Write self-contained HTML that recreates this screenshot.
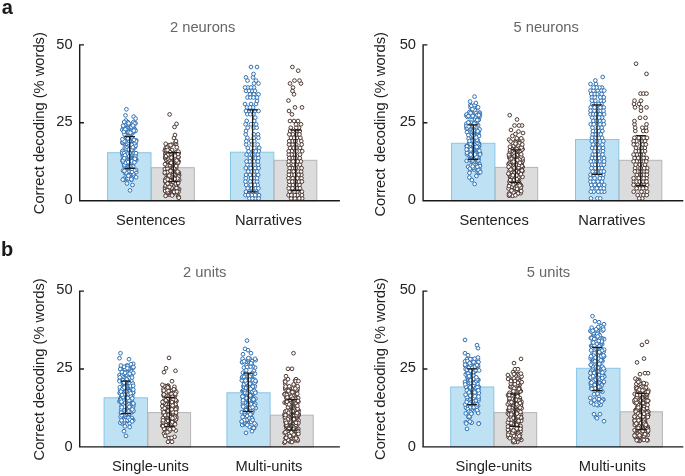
<!DOCTYPE html>
<html lang="en"><head><meta charset="utf-8"><title>Decoding figure</title>
<style>html,body{margin:0;padding:0;background:#fff}svg{display:block}</style></head>
<body>
<svg width="685" height="476" viewBox="0 0 685 476" font-family="Liberation Sans, Arial, sans-serif" font-size="14.7">
<rect width="685" height="476" fill="#fff"/>
<rect x="107.6" y="152.7" width="43.4" height="48.0" fill="#bfe1f4" stroke="#86c6e6" stroke-width="1"/>
<rect x="151.4" y="167.7" width="42.9" height="33.0" fill="#dcdcdc" stroke="#b4b4b4" stroke-width="1"/>
<rect x="230.5" y="152.2" width="43.3" height="48.5" fill="#bfe1f4" stroke="#86c6e6" stroke-width="1"/>
<rect x="274.2" y="160.3" width="42.6" height="40.4" fill="#dcdcdc" stroke="#b4b4b4" stroke-width="1"/>
<g fill="#fff" stroke="#2a6eb2" stroke-width="0.95">
<circle cx="133.2" cy="166.3" r="1.85"/>
<circle cx="124.7" cy="148.0" r="1.85"/>
<circle cx="125.8" cy="156.8" r="1.85"/>
<circle cx="134.9" cy="156.4" r="1.85"/>
<circle cx="132.5" cy="151.0" r="1.85"/>
<circle cx="126.3" cy="136.9" r="1.85"/>
<circle cx="126.2" cy="160.1" r="1.85"/>
<circle cx="129.3" cy="158.1" r="1.85"/>
<circle cx="126.4" cy="148.7" r="1.85"/>
<circle cx="126.0" cy="120.5" r="1.85"/>
<circle cx="130.9" cy="152.4" r="1.85"/>
<circle cx="122.4" cy="151.0" r="1.85"/>
<circle cx="135.4" cy="153.1" r="1.85"/>
<circle cx="131.9" cy="152.2" r="1.85"/>
<circle cx="128.0" cy="137.3" r="1.85"/>
<circle cx="125.5" cy="159.6" r="1.85"/>
<circle cx="133.3" cy="132.5" r="1.85"/>
<circle cx="130.1" cy="143.8" r="1.85"/>
<circle cx="125.5" cy="115.4" r="1.85"/>
<circle cx="135.3" cy="154.0" r="1.85"/>
<circle cx="125.4" cy="132.4" r="1.85"/>
<circle cx="125.9" cy="142.2" r="1.85"/>
<circle cx="131.4" cy="179.8" r="1.85"/>
<circle cx="128.0" cy="122.2" r="1.85"/>
<circle cx="127.3" cy="137.4" r="1.85"/>
<circle cx="127.4" cy="159.7" r="1.85"/>
<circle cx="133.5" cy="162.9" r="1.85"/>
<circle cx="133.5" cy="141.6" r="1.85"/>
<circle cx="122.4" cy="160.5" r="1.85"/>
<circle cx="129.3" cy="125.4" r="1.85"/>
<circle cx="128.5" cy="126.8" r="1.85"/>
<circle cx="134.5" cy="145.1" r="1.85"/>
<circle cx="133.2" cy="175.7" r="1.85"/>
<circle cx="126.8" cy="146.9" r="1.85"/>
<circle cx="123.0" cy="154.3" r="1.85"/>
<circle cx="123.8" cy="143.5" r="1.85"/>
<circle cx="123.0" cy="170.6" r="1.85"/>
<circle cx="125.9" cy="128.0" r="1.85"/>
<circle cx="129.5" cy="135.4" r="1.85"/>
<circle cx="128.1" cy="153.1" r="1.85"/>
<circle cx="133.6" cy="116.6" r="1.85"/>
<circle cx="129.7" cy="151.6" r="1.85"/>
<circle cx="126.2" cy="165.0" r="1.85"/>
<circle cx="123.6" cy="127.1" r="1.85"/>
<circle cx="131.6" cy="124.3" r="1.85"/>
<circle cx="123.6" cy="163.1" r="1.85"/>
<circle cx="130.1" cy="128.3" r="1.85"/>
<circle cx="134.0" cy="128.0" r="1.85"/>
<circle cx="128.9" cy="171.6" r="1.85"/>
<circle cx="133.7" cy="128.6" r="1.85"/>
<circle cx="123.1" cy="160.0" r="1.85"/>
<circle cx="126.1" cy="123.6" r="1.85"/>
<circle cx="130.4" cy="140.5" r="1.85"/>
<circle cx="127.3" cy="128.0" r="1.85"/>
<circle cx="132.9" cy="155.1" r="1.85"/>
<circle cx="127.0" cy="136.9" r="1.85"/>
<circle cx="124.2" cy="178.5" r="1.85"/>
<circle cx="122.5" cy="143.0" r="1.85"/>
<circle cx="129.4" cy="157.5" r="1.85"/>
<circle cx="131.1" cy="174.0" r="1.85"/>
<circle cx="124.1" cy="166.1" r="1.85"/>
<circle cx="136.2" cy="140.3" r="1.85"/>
<circle cx="134.6" cy="154.4" r="1.85"/>
<circle cx="135.5" cy="155.2" r="1.85"/>
<circle cx="127.7" cy="179.3" r="1.85"/>
<circle cx="129.0" cy="131.0" r="1.85"/>
<circle cx="123.8" cy="130.5" r="1.85"/>
<circle cx="125.9" cy="170.4" r="1.85"/>
<circle cx="122.3" cy="129.7" r="1.85"/>
<circle cx="130.0" cy="164.8" r="1.85"/>
<circle cx="132.1" cy="139.0" r="1.85"/>
<circle cx="123.0" cy="141.2" r="1.85"/>
<circle cx="125.0" cy="125.5" r="1.85"/>
<circle cx="135.5" cy="143.6" r="1.85"/>
<circle cx="125.8" cy="128.7" r="1.85"/>
<circle cx="123.9" cy="157.0" r="1.85"/>
<circle cx="125.6" cy="129.6" r="1.85"/>
<circle cx="127.0" cy="183.5" r="1.85"/>
<circle cx="125.2" cy="173.3" r="1.85"/>
<circle cx="133.5" cy="172.3" r="1.85"/>
<circle cx="123.8" cy="179.8" r="1.85"/>
<circle cx="130.0" cy="190.4" r="1.85"/>
<circle cx="122.5" cy="154.0" r="1.85"/>
<circle cx="131.9" cy="140.3" r="1.85"/>
<circle cx="132.4" cy="154.4" r="1.85"/>
<circle cx="131.1" cy="128.1" r="1.85"/>
<circle cx="125.0" cy="133.6" r="1.85"/>
<circle cx="135.1" cy="146.8" r="1.85"/>
<circle cx="123.6" cy="158.3" r="1.85"/>
<circle cx="135.6" cy="118.6" r="1.85"/>
<circle cx="124.0" cy="140.9" r="1.85"/>
<circle cx="130.2" cy="167.1" r="1.85"/>
<circle cx="132.9" cy="146.7" r="1.85"/>
<circle cx="122.8" cy="156.3" r="1.85"/>
<circle cx="126.6" cy="173.7" r="1.85"/>
<circle cx="129.9" cy="142.7" r="1.85"/>
<circle cx="127.7" cy="156.0" r="1.85"/>
<circle cx="128.6" cy="156.2" r="1.85"/>
<circle cx="127.8" cy="145.2" r="1.85"/>
<circle cx="127.3" cy="178.3" r="1.85"/>
<circle cx="124.5" cy="164.8" r="1.85"/>
<circle cx="124.2" cy="129.5" r="1.85"/>
<circle cx="132.5" cy="185.0" r="1.85"/>
<circle cx="125.5" cy="157.0" r="1.85"/>
<circle cx="129.6" cy="150.3" r="1.85"/>
<circle cx="134.5" cy="147.6" r="1.85"/>
<circle cx="122.8" cy="142.1" r="1.85"/>
<circle cx="125.3" cy="135.0" r="1.85"/>
<circle cx="129.1" cy="156.1" r="1.85"/>
<circle cx="126.9" cy="161.4" r="1.85"/>
<circle cx="133.2" cy="154.8" r="1.85"/>
<circle cx="131.9" cy="154.3" r="1.85"/>
<circle cx="135.5" cy="171.6" r="1.85"/>
<circle cx="130.0" cy="141.0" r="1.85"/>
<circle cx="130.5" cy="163.0" r="1.85"/>
<circle cx="132.6" cy="170.3" r="1.85"/>
<circle cx="127.0" cy="143.8" r="1.85"/>
<circle cx="130.4" cy="136.2" r="1.85"/>
<circle cx="127.3" cy="153.6" r="1.85"/>
<circle cx="132.0" cy="172.9" r="1.85"/>
<circle cx="133.8" cy="147.0" r="1.85"/>
<circle cx="123.9" cy="155.9" r="1.85"/>
<circle cx="122.9" cy="161.9" r="1.85"/>
<circle cx="135.5" cy="145.7" r="1.85"/>
<circle cx="134.7" cy="143.2" r="1.85"/>
<circle cx="133.7" cy="140.2" r="1.85"/>
<circle cx="128.6" cy="142.9" r="1.85"/>
<circle cx="128.5" cy="178.4" r="1.85"/>
<circle cx="131.5" cy="150.0" r="1.85"/>
<circle cx="133.9" cy="158.9" r="1.85"/>
<circle cx="125.3" cy="129.3" r="1.85"/>
<circle cx="134.8" cy="158.6" r="1.85"/>
<circle cx="133.2" cy="175.1" r="1.85"/>
<circle cx="128.3" cy="124.2" r="1.85"/>
<circle cx="128.4" cy="175.8" r="1.85"/>
<circle cx="126.0" cy="136.7" r="1.85"/>
<circle cx="132.1" cy="125.6" r="1.85"/>
<circle cx="136.1" cy="141.3" r="1.85"/>
<circle cx="133.6" cy="175.4" r="1.85"/>
<circle cx="129.5" cy="141.2" r="1.85"/>
<circle cx="135.4" cy="155.8" r="1.85"/>
<circle cx="126.1" cy="170.5" r="1.85"/>
<circle cx="136.1" cy="159.5" r="1.85"/>
<circle cx="131.6" cy="144.8" r="1.85"/>
<circle cx="122.4" cy="152.9" r="1.85"/>
<circle cx="133.2" cy="153.4" r="1.85"/>
<circle cx="133.5" cy="160.5" r="1.85"/>
<circle cx="128.7" cy="123.3" r="1.85"/>
<circle cx="129.3" cy="167.6" r="1.85"/>
<circle cx="125.8" cy="162.9" r="1.85"/>
<circle cx="133.4" cy="173.6" r="1.85"/>
<circle cx="124.2" cy="153.2" r="1.85"/>
<circle cx="135.6" cy="123.4" r="1.85"/>
<circle cx="123.4" cy="126.1" r="1.85"/>
<circle cx="131.5" cy="127.0" r="1.85"/>
<circle cx="122.8" cy="179.6" r="1.85"/>
<circle cx="131.5" cy="161.3" r="1.85"/>
<circle cx="128.9" cy="166.3" r="1.85"/>
<circle cx="136.2" cy="160.2" r="1.85"/>
<circle cx="130.3" cy="136.4" r="1.85"/>
<circle cx="125.0" cy="155.3" r="1.85"/>
<circle cx="134.5" cy="153.0" r="1.85"/>
<circle cx="123.1" cy="160.4" r="1.85"/>
<circle cx="131.1" cy="169.1" r="1.85"/>
<circle cx="124.4" cy="134.3" r="1.85"/>
<circle cx="129.0" cy="135.8" r="1.85"/>
<circle cx="133.4" cy="122.2" r="1.85"/>
<circle cx="136.2" cy="172.1" r="1.85"/>
<circle cx="135.0" cy="129.7" r="1.85"/>
<circle cx="126.4" cy="109.3" r="1.85"/>
<circle cx="122.9" cy="142.2" r="1.85"/>
<circle cx="136.1" cy="169.9" r="1.85"/>
<circle cx="132.9" cy="147.3" r="1.85"/>
<circle cx="134.4" cy="170.3" r="1.85"/>
<circle cx="131.9" cy="137.3" r="1.85"/>
<circle cx="131.9" cy="178.2" r="1.85"/>
<circle cx="136.0" cy="153.2" r="1.85"/>
<circle cx="135.6" cy="159.0" r="1.85"/>
<circle cx="134.0" cy="139.9" r="1.85"/>
<circle cx="133.1" cy="131.9" r="1.85"/>
<circle cx="128.9" cy="137.4" r="1.85"/>
<circle cx="125.3" cy="141.5" r="1.85"/>
<circle cx="136.1" cy="177.3" r="1.85"/>
<circle cx="134.5" cy="123.5" r="1.85"/>
<circle cx="124.2" cy="141.1" r="1.85"/>
<circle cx="131.3" cy="179.3" r="1.85"/>
<circle cx="124.2" cy="158.2" r="1.85"/>
<circle cx="123.8" cy="131.9" r="1.85"/>
<circle cx="128.0" cy="138.4" r="1.85"/>
<circle cx="125.1" cy="170.7" r="1.85"/>
<circle cx="126.2" cy="172.6" r="1.85"/>
<circle cx="124.4" cy="170.9" r="1.85"/>
<circle cx="134.4" cy="162.4" r="1.85"/>
<circle cx="123.1" cy="125.7" r="1.85"/>
<circle cx="135.6" cy="130.8" r="1.85"/>
<circle cx="129.0" cy="149.5" r="1.85"/>
<circle cx="132.0" cy="171.8" r="1.85"/>
<circle cx="128.8" cy="132.2" r="1.85"/>
<circle cx="134.9" cy="158.8" r="1.85"/>
<circle cx="130.2" cy="166.2" r="1.85"/>
<circle cx="132.0" cy="168.9" r="1.85"/>
<circle cx="130.4" cy="132.7" r="1.85"/>
<circle cx="133.0" cy="125.5" r="1.85"/>
<circle cx="133.8" cy="130.6" r="1.85"/>
<circle cx="124.2" cy="122.0" r="1.85"/>
<circle cx="129.9" cy="153.0" r="1.85"/>
<circle cx="122.4" cy="139.3" r="1.85"/>
<circle cx="128.2" cy="162.1" r="1.85"/>
</g>
<g fill="#fff" stroke="#48322a" stroke-width="0.95">
<circle cx="173.8" cy="153.0" r="1.85"/>
<circle cx="175.8" cy="175.7" r="1.85"/>
<circle cx="174.0" cy="138.0" r="1.85"/>
<circle cx="172.7" cy="190.9" r="1.85"/>
<circle cx="166.1" cy="159.8" r="1.85"/>
<circle cx="168.9" cy="194.6" r="1.85"/>
<circle cx="174.1" cy="181.1" r="1.85"/>
<circle cx="170.2" cy="167.8" r="1.85"/>
<circle cx="173.7" cy="191.8" r="1.85"/>
<circle cx="175.4" cy="157.5" r="1.85"/>
<circle cx="172.7" cy="165.8" r="1.85"/>
<circle cx="167.5" cy="167.8" r="1.85"/>
<circle cx="173.3" cy="193.9" r="1.85"/>
<circle cx="175.0" cy="143.7" r="1.85"/>
<circle cx="165.5" cy="149.4" r="1.85"/>
<circle cx="168.4" cy="154.2" r="1.85"/>
<circle cx="170.0" cy="190.0" r="1.85"/>
<circle cx="174.9" cy="192.0" r="1.85"/>
<circle cx="165.5" cy="179.4" r="1.85"/>
<circle cx="167.8" cy="168.3" r="1.85"/>
<circle cx="170.9" cy="159.6" r="1.85"/>
<circle cx="168.6" cy="155.0" r="1.85"/>
<circle cx="170.5" cy="161.4" r="1.85"/>
<circle cx="166.3" cy="156.4" r="1.85"/>
<circle cx="168.4" cy="156.1" r="1.85"/>
<circle cx="168.1" cy="189.0" r="1.85"/>
<circle cx="170.8" cy="181.9" r="1.85"/>
<circle cx="170.5" cy="149.6" r="1.85"/>
<circle cx="173.0" cy="174.5" r="1.85"/>
<circle cx="174.5" cy="167.9" r="1.85"/>
<circle cx="167.7" cy="177.5" r="1.85"/>
<circle cx="168.5" cy="163.8" r="1.85"/>
<circle cx="178.8" cy="153.1" r="1.85"/>
<circle cx="172.1" cy="150.0" r="1.85"/>
<circle cx="178.0" cy="174.8" r="1.85"/>
<circle cx="178.1" cy="196.1" r="1.85"/>
<circle cx="166.6" cy="194.8" r="1.85"/>
<circle cx="178.7" cy="197.2" r="1.85"/>
<circle cx="171.9" cy="164.4" r="1.85"/>
<circle cx="165.1" cy="187.4" r="1.85"/>
<circle cx="167.2" cy="167.2" r="1.85"/>
<circle cx="175.4" cy="183.7" r="1.85"/>
<circle cx="168.3" cy="163.4" r="1.85"/>
<circle cx="178.8" cy="197.8" r="1.85"/>
<circle cx="166.5" cy="178.1" r="1.85"/>
<circle cx="168.4" cy="148.7" r="1.85"/>
<circle cx="165.3" cy="153.8" r="1.85"/>
<circle cx="165.8" cy="147.8" r="1.85"/>
<circle cx="169.7" cy="161.6" r="1.85"/>
<circle cx="171.6" cy="144.6" r="1.85"/>
<circle cx="179.1" cy="175.2" r="1.85"/>
<circle cx="165.4" cy="181.9" r="1.85"/>
<circle cx="173.9" cy="168.2" r="1.85"/>
<circle cx="172.7" cy="171.8" r="1.85"/>
<circle cx="165.1" cy="158.0" r="1.85"/>
<circle cx="164.8" cy="150.8" r="1.85"/>
<circle cx="174.5" cy="127.0" r="1.85"/>
<circle cx="178.1" cy="176.7" r="1.85"/>
<circle cx="176.1" cy="144.1" r="1.85"/>
<circle cx="178.5" cy="157.3" r="1.85"/>
<circle cx="173.7" cy="171.0" r="1.85"/>
<circle cx="169.3" cy="192.4" r="1.85"/>
<circle cx="178.5" cy="174.4" r="1.85"/>
<circle cx="171.9" cy="194.4" r="1.85"/>
<circle cx="175.8" cy="153.5" r="1.85"/>
<circle cx="164.9" cy="169.1" r="1.85"/>
<circle cx="173.9" cy="189.7" r="1.85"/>
<circle cx="179.2" cy="180.1" r="1.85"/>
<circle cx="166.6" cy="191.7" r="1.85"/>
<circle cx="169.5" cy="190.4" r="1.85"/>
<circle cx="175.2" cy="191.0" r="1.85"/>
<circle cx="175.0" cy="179.7" r="1.85"/>
<circle cx="168.0" cy="167.8" r="1.85"/>
<circle cx="165.5" cy="156.3" r="1.85"/>
<circle cx="177.1" cy="184.9" r="1.85"/>
<circle cx="175.9" cy="184.8" r="1.85"/>
<circle cx="170.5" cy="174.3" r="1.85"/>
<circle cx="170.6" cy="153.6" r="1.85"/>
<circle cx="176.5" cy="163.4" r="1.85"/>
<circle cx="168.4" cy="175.4" r="1.85"/>
<circle cx="175.4" cy="183.4" r="1.85"/>
<circle cx="179.1" cy="189.1" r="1.85"/>
<circle cx="168.0" cy="162.2" r="1.85"/>
<circle cx="167.5" cy="170.6" r="1.85"/>
<circle cx="174.5" cy="180.3" r="1.85"/>
<circle cx="169.7" cy="166.6" r="1.85"/>
<circle cx="174.9" cy="175.1" r="1.85"/>
<circle cx="168.8" cy="145.2" r="1.85"/>
<circle cx="174.8" cy="166.6" r="1.85"/>
<circle cx="165.6" cy="195.9" r="1.85"/>
<circle cx="168.5" cy="192.8" r="1.85"/>
<circle cx="174.4" cy="169.8" r="1.85"/>
<circle cx="175.0" cy="135.0" r="1.85"/>
<circle cx="171.6" cy="188.6" r="1.85"/>
<circle cx="176.0" cy="161.9" r="1.85"/>
<circle cx="166.1" cy="152.0" r="1.85"/>
<circle cx="168.4" cy="169.5" r="1.85"/>
<circle cx="170.5" cy="145.1" r="1.85"/>
<circle cx="169.1" cy="176.1" r="1.85"/>
<circle cx="166.6" cy="192.3" r="1.85"/>
<circle cx="165.0" cy="173.3" r="1.85"/>
<circle cx="165.5" cy="156.9" r="1.85"/>
<circle cx="177.8" cy="152.8" r="1.85"/>
<circle cx="171.3" cy="180.1" r="1.85"/>
<circle cx="165.2" cy="188.6" r="1.85"/>
<circle cx="177.5" cy="188.7" r="1.85"/>
<circle cx="169.5" cy="173.6" r="1.85"/>
<circle cx="166.8" cy="171.9" r="1.85"/>
<circle cx="167.5" cy="168.6" r="1.85"/>
<circle cx="177.7" cy="180.9" r="1.85"/>
<circle cx="171.0" cy="160.8" r="1.85"/>
<circle cx="166.5" cy="150.6" r="1.85"/>
<circle cx="171.0" cy="184.7" r="1.85"/>
<circle cx="178.5" cy="176.6" r="1.85"/>
<circle cx="168.4" cy="192.6" r="1.85"/>
<circle cx="166.1" cy="156.1" r="1.85"/>
<circle cx="174.1" cy="191.9" r="1.85"/>
<circle cx="169.9" cy="156.5" r="1.85"/>
<circle cx="178.3" cy="156.9" r="1.85"/>
<circle cx="165.9" cy="178.6" r="1.85"/>
<circle cx="171.6" cy="188.0" r="1.85"/>
<circle cx="165.3" cy="180.8" r="1.85"/>
<circle cx="168.5" cy="177.3" r="1.85"/>
<circle cx="177.8" cy="163.3" r="1.85"/>
<circle cx="171.2" cy="176.7" r="1.85"/>
<circle cx="178.5" cy="191.8" r="1.85"/>
<circle cx="167.5" cy="172.1" r="1.85"/>
<circle cx="172.3" cy="163.5" r="1.85"/>
<circle cx="168.6" cy="190.0" r="1.85"/>
<circle cx="169.2" cy="163.1" r="1.85"/>
<circle cx="178.9" cy="172.7" r="1.85"/>
<circle cx="169.5" cy="182.4" r="1.85"/>
<circle cx="168.8" cy="158.5" r="1.85"/>
<circle cx="167.1" cy="150.7" r="1.85"/>
<circle cx="170.3" cy="176.6" r="1.85"/>
<circle cx="168.7" cy="159.6" r="1.85"/>
<circle cx="169.6" cy="114.4" r="1.85"/>
<circle cx="170.7" cy="181.0" r="1.85"/>
<circle cx="166.6" cy="190.2" r="1.85"/>
<circle cx="166.8" cy="165.4" r="1.85"/>
<circle cx="177.5" cy="178.5" r="1.85"/>
<circle cx="172.1" cy="195.5" r="1.85"/>
<circle cx="178.0" cy="172.9" r="1.85"/>
<circle cx="171.6" cy="154.2" r="1.85"/>
<circle cx="176.3" cy="167.4" r="1.85"/>
<circle cx="173.2" cy="169.3" r="1.85"/>
<circle cx="168.4" cy="162.1" r="1.85"/>
<circle cx="176.1" cy="166.0" r="1.85"/>
<circle cx="169.0" cy="188.9" r="1.85"/>
<circle cx="176.8" cy="147.3" r="1.85"/>
<circle cx="164.8" cy="172.5" r="1.85"/>
<circle cx="175.1" cy="155.6" r="1.85"/>
<circle cx="165.7" cy="185.8" r="1.85"/>
<circle cx="175.7" cy="142.2" r="1.85"/>
<circle cx="169.6" cy="161.4" r="1.85"/>
<circle cx="172.7" cy="176.2" r="1.85"/>
<circle cx="168.5" cy="189.8" r="1.85"/>
<circle cx="169.9" cy="165.1" r="1.85"/>
<circle cx="176.9" cy="151.7" r="1.85"/>
<circle cx="174.2" cy="169.6" r="1.85"/>
<circle cx="165.7" cy="143.8" r="1.85"/>
<circle cx="168.1" cy="184.6" r="1.85"/>
<circle cx="167.7" cy="179.4" r="1.85"/>
<circle cx="170.2" cy="163.0" r="1.85"/>
<circle cx="165.1" cy="191.0" r="1.85"/>
<circle cx="178.2" cy="183.0" r="1.85"/>
<circle cx="176.0" cy="141.0" r="1.85"/>
<circle cx="168.5" cy="154.4" r="1.85"/>
<circle cx="170.8" cy="153.6" r="1.85"/>
<circle cx="178.6" cy="161.4" r="1.85"/>
<circle cx="173.1" cy="181.9" r="1.85"/>
<circle cx="165.0" cy="164.2" r="1.85"/>
<circle cx="167.0" cy="147.7" r="1.85"/>
<circle cx="171.4" cy="157.7" r="1.85"/>
<circle cx="167.9" cy="186.9" r="1.85"/>
<circle cx="177.6" cy="171.6" r="1.85"/>
<circle cx="178.3" cy="151.6" r="1.85"/>
<circle cx="167.8" cy="192.1" r="1.85"/>
<circle cx="171.2" cy="162.8" r="1.85"/>
<circle cx="166.0" cy="150.2" r="1.85"/>
<circle cx="178.0" cy="161.4" r="1.85"/>
<circle cx="176.5" cy="188.0" r="1.85"/>
<circle cx="178.0" cy="154.1" r="1.85"/>
<circle cx="169.5" cy="187.0" r="1.85"/>
<circle cx="178.1" cy="162.4" r="1.85"/>
<circle cx="167.4" cy="190.3" r="1.85"/>
<circle cx="174.6" cy="169.2" r="1.85"/>
<circle cx="173.4" cy="174.5" r="1.85"/>
<circle cx="170.0" cy="152.0" r="1.85"/>
<circle cx="176.5" cy="123.9" r="1.85"/>
<circle cx="169.2" cy="175.6" r="1.85"/>
<circle cx="174.6" cy="178.9" r="1.85"/>
<circle cx="177.0" cy="191.6" r="1.85"/>
<circle cx="167.6" cy="150.0" r="1.85"/>
<circle cx="173.7" cy="168.4" r="1.85"/>
<circle cx="172.7" cy="171.4" r="1.85"/>
<circle cx="170.5" cy="171.0" r="1.85"/>
<circle cx="176.6" cy="160.5" r="1.85"/>
<circle cx="167.7" cy="183.5" r="1.85"/>
</g>
<g fill="#fff" stroke="#2a6eb2" stroke-width="0.95">
<circle cx="253.9" cy="134.4" r="1.85"/>
<circle cx="255.4" cy="198.4" r="1.85"/>
<circle cx="247.3" cy="114.2" r="1.85"/>
<circle cx="253.0" cy="151.2" r="1.85"/>
<circle cx="256.0" cy="104.0" r="1.85"/>
<circle cx="259.2" cy="147.9" r="1.85"/>
<circle cx="247.4" cy="137.8" r="1.85"/>
<circle cx="258.2" cy="164.7" r="1.85"/>
<circle cx="258.0" cy="134.4" r="1.85"/>
<circle cx="255.0" cy="111.0" r="1.85"/>
<circle cx="258.5" cy="111.0" r="1.85"/>
<circle cx="252.1" cy="191.7" r="1.85"/>
<circle cx="247.0" cy="107.4" r="1.85"/>
<circle cx="246.1" cy="144.5" r="1.85"/>
<circle cx="254.1" cy="161.4" r="1.85"/>
<circle cx="253.0" cy="107.4" r="1.85"/>
<circle cx="253.9" cy="178.2" r="1.85"/>
<circle cx="257.0" cy="67.0" r="1.85"/>
<circle cx="257.9" cy="154.6" r="1.85"/>
<circle cx="251.8" cy="195.1" r="1.85"/>
<circle cx="249.0" cy="111.0" r="1.85"/>
<circle cx="245.7" cy="134.4" r="1.85"/>
<circle cx="251.8" cy="144.5" r="1.85"/>
<circle cx="254.2" cy="181.6" r="1.85"/>
<circle cx="251.0" cy="67.0" r="1.85"/>
<circle cx="254.2" cy="171.5" r="1.85"/>
<circle cx="250.2" cy="174.8" r="1.85"/>
<circle cx="255.5" cy="188.3" r="1.85"/>
<circle cx="258.4" cy="137.8" r="1.85"/>
<circle cx="245.8" cy="168.1" r="1.85"/>
<circle cx="251.1" cy="178.2" r="1.85"/>
<circle cx="246.0" cy="77.4" r="1.85"/>
<circle cx="246.0" cy="90.9" r="1.85"/>
<circle cx="258.7" cy="198.4" r="1.85"/>
<circle cx="250.0" cy="94.3" r="1.85"/>
<circle cx="250.9" cy="124.3" r="1.85"/>
<circle cx="248.0" cy="87.5" r="1.85"/>
<circle cx="257.1" cy="181.6" r="1.85"/>
<circle cx="254.3" cy="141.1" r="1.85"/>
<circle cx="246.7" cy="120.9" r="1.85"/>
<circle cx="251.0" cy="104.0" r="1.85"/>
<circle cx="251.1" cy="141.1" r="1.85"/>
<circle cx="247.5" cy="97.5" r="1.85"/>
<circle cx="253.6" cy="127.7" r="1.85"/>
<circle cx="252.0" cy="111.0" r="1.85"/>
<circle cx="252.4" cy="154.6" r="1.85"/>
<circle cx="247.7" cy="188.3" r="1.85"/>
<circle cx="246.3" cy="141.1" r="1.85"/>
<circle cx="249.9" cy="158.0" r="1.85"/>
<circle cx="259.0" cy="195.1" r="1.85"/>
<circle cx="254.0" cy="87.5" r="1.85"/>
<circle cx="248.6" cy="151.2" r="1.85"/>
<circle cx="250.3" cy="181.6" r="1.85"/>
<circle cx="256.0" cy="80.6" r="1.85"/>
<circle cx="253.0" cy="77.4" r="1.85"/>
<circle cx="246.2" cy="184.9" r="1.85"/>
<circle cx="245.0" cy="104.0" r="1.85"/>
<circle cx="256.7" cy="127.7" r="1.85"/>
<circle cx="255.7" cy="158.0" r="1.85"/>
<circle cx="258.4" cy="158.0" r="1.85"/>
<circle cx="247.5" cy="80.6" r="1.85"/>
<circle cx="254.4" cy="147.9" r="1.85"/>
<circle cx="249.4" cy="198.4" r="1.85"/>
<circle cx="258.6" cy="168.1" r="1.85"/>
<circle cx="251.2" cy="171.5" r="1.85"/>
<circle cx="246.0" cy="131.0" r="1.85"/>
<circle cx="251.0" cy="87.5" r="1.85"/>
<circle cx="245.6" cy="124.3" r="1.85"/>
<circle cx="253.5" cy="74.0" r="1.85"/>
<circle cx="257.1" cy="178.2" r="1.85"/>
<circle cx="250.2" cy="164.7" r="1.85"/>
<circle cx="254.2" cy="120.9" r="1.85"/>
<circle cx="255.1" cy="168.1" r="1.85"/>
<circle cx="245.8" cy="178.2" r="1.85"/>
<circle cx="246.0" cy="111.0" r="1.85"/>
<circle cx="255.2" cy="195.1" r="1.85"/>
<circle cx="254.0" cy="83.5" r="1.85"/>
<circle cx="257.6" cy="184.9" r="1.85"/>
<circle cx="252.0" cy="90.9" r="1.85"/>
<circle cx="245.5" cy="195.1" r="1.85"/>
<circle cx="257.9" cy="161.4" r="1.85"/>
<circle cx="258.5" cy="94.3" r="1.85"/>
<circle cx="254.0" cy="94.3" r="1.85"/>
<circle cx="257.0" cy="101.0" r="1.85"/>
<circle cx="258.4" cy="188.3" r="1.85"/>
<circle cx="246.6" cy="154.6" r="1.85"/>
<circle cx="256.2" cy="124.3" r="1.85"/>
<circle cx="255.2" cy="117.6" r="1.85"/>
<circle cx="253.5" cy="114.2" r="1.85"/>
<circle cx="258.2" cy="174.8" r="1.85"/>
<circle cx="247.8" cy="147.9" r="1.85"/>
<circle cx="258.5" cy="83.5" r="1.85"/>
<circle cx="258.7" cy="151.2" r="1.85"/>
<circle cx="248.2" cy="195.1" r="1.85"/>
<circle cx="250.0" cy="107.4" r="1.85"/>
<circle cx="247.4" cy="164.7" r="1.85"/>
<circle cx="247.7" cy="127.7" r="1.85"/>
<circle cx="255.7" cy="151.2" r="1.85"/>
<circle cx="249.0" cy="191.7" r="1.85"/>
<circle cx="257.0" cy="97.5" r="1.85"/>
<circle cx="256.5" cy="191.7" r="1.85"/>
<circle cx="246.1" cy="174.8" r="1.85"/>
<circle cx="253.8" cy="137.8" r="1.85"/>
<circle cx="255.0" cy="90.9" r="1.85"/>
<circle cx="250.5" cy="97.5" r="1.85"/>
<circle cx="250.8" cy="184.9" r="1.85"/>
<circle cx="257.7" cy="144.5" r="1.85"/>
<circle cx="249.9" cy="161.4" r="1.85"/>
<circle cx="253.7" cy="174.8" r="1.85"/>
<circle cx="250.7" cy="168.1" r="1.85"/>
<circle cx="245.4" cy="181.6" r="1.85"/>
<circle cx="253.5" cy="97.5" r="1.85"/>
<circle cx="245.0" cy="87.5" r="1.85"/>
<circle cx="249.0" cy="90.9" r="1.85"/>
<circle cx="250.3" cy="114.2" r="1.85"/>
<circle cx="246.5" cy="161.4" r="1.85"/>
<circle cx="252.3" cy="198.4" r="1.85"/>
<circle cx="248.2" cy="171.5" r="1.85"/>
<circle cx="246.0" cy="191.7" r="1.85"/>
<circle cx="252.1" cy="188.3" r="1.85"/>
<circle cx="254.9" cy="184.9" r="1.85"/>
<circle cx="257.1" cy="171.5" r="1.85"/>
</g>
<g fill="#fff" stroke="#48322a" stroke-width="0.95">
<circle cx="294.0" cy="94.3" r="1.85"/>
<circle cx="299.5" cy="184.9" r="1.85"/>
<circle cx="292.4" cy="168.1" r="1.85"/>
<circle cx="292.9" cy="184.9" r="1.85"/>
<circle cx="299.9" cy="164.7" r="1.85"/>
<circle cx="292.6" cy="144.5" r="1.85"/>
<circle cx="299.8" cy="131.0" r="1.85"/>
<circle cx="288.5" cy="100.6" r="1.85"/>
<circle cx="298.2" cy="70.7" r="1.85"/>
<circle cx="301.5" cy="178.2" r="1.85"/>
<circle cx="292.9" cy="134.4" r="1.85"/>
<circle cx="298.8" cy="181.6" r="1.85"/>
<circle cx="299.0" cy="127.7" r="1.85"/>
<circle cx="292.5" cy="188.3" r="1.85"/>
<circle cx="301.0" cy="83.5" r="1.85"/>
<circle cx="292.4" cy="67.0" r="1.85"/>
<circle cx="301.4" cy="174.8" r="1.85"/>
<circle cx="293.7" cy="147.9" r="1.85"/>
<circle cx="288.5" cy="178.2" r="1.85"/>
<circle cx="302.2" cy="198.4" r="1.85"/>
<circle cx="298.3" cy="171.5" r="1.85"/>
<circle cx="297.4" cy="191.7" r="1.85"/>
<circle cx="292.7" cy="158.0" r="1.85"/>
<circle cx="290.0" cy="121.0" r="1.85"/>
<circle cx="301.1" cy="171.5" r="1.85"/>
<circle cx="295.6" cy="168.1" r="1.85"/>
<circle cx="299.2" cy="198.4" r="1.85"/>
<circle cx="294.5" cy="191.7" r="1.85"/>
<circle cx="301.9" cy="191.7" r="1.85"/>
<circle cx="294.9" cy="198.4" r="1.85"/>
<circle cx="301.9" cy="195.1" r="1.85"/>
<circle cx="291.9" cy="151.2" r="1.85"/>
<circle cx="296.1" cy="184.9" r="1.85"/>
<circle cx="300.9" cy="161.4" r="1.85"/>
<circle cx="289.0" cy="111.0" r="1.85"/>
<circle cx="292.6" cy="178.2" r="1.85"/>
<circle cx="295.0" cy="107.4" r="1.85"/>
<circle cx="293.5" cy="164.7" r="1.85"/>
<circle cx="294.5" cy="80.6" r="1.85"/>
<circle cx="290.8" cy="127.7" r="1.85"/>
<circle cx="296.3" cy="144.5" r="1.85"/>
<circle cx="299.5" cy="80.6" r="1.85"/>
<circle cx="295.1" cy="154.6" r="1.85"/>
<circle cx="293.2" cy="161.4" r="1.85"/>
<circle cx="296.3" cy="131.0" r="1.85"/>
<circle cx="298.6" cy="174.8" r="1.85"/>
<circle cx="290.1" cy="131.0" r="1.85"/>
<circle cx="288.6" cy="164.7" r="1.85"/>
<circle cx="302.0" cy="107.4" r="1.85"/>
<circle cx="291.6" cy="154.6" r="1.85"/>
<circle cx="296.4" cy="147.9" r="1.85"/>
<circle cx="296.5" cy="151.2" r="1.85"/>
<circle cx="301.3" cy="141.1" r="1.85"/>
<circle cx="298.0" cy="121.0" r="1.85"/>
<circle cx="297.3" cy="178.2" r="1.85"/>
<circle cx="296.3" cy="164.7" r="1.85"/>
<circle cx="301.9" cy="181.6" r="1.85"/>
<circle cx="297.0" cy="137.8" r="1.85"/>
<circle cx="290.0" cy="83.5" r="1.85"/>
<circle cx="297.5" cy="195.1" r="1.85"/>
<circle cx="292.5" cy="141.1" r="1.85"/>
<circle cx="289.4" cy="184.9" r="1.85"/>
<circle cx="294.7" cy="195.1" r="1.85"/>
<circle cx="289.7" cy="191.7" r="1.85"/>
<circle cx="291.1" cy="198.4" r="1.85"/>
<circle cx="290.0" cy="147.9" r="1.85"/>
<circle cx="289.6" cy="168.1" r="1.85"/>
<circle cx="296.9" cy="188.3" r="1.85"/>
<circle cx="295.3" cy="181.6" r="1.85"/>
<circle cx="288.8" cy="154.6" r="1.85"/>
<circle cx="294.0" cy="121.0" r="1.85"/>
<circle cx="295.5" cy="141.1" r="1.85"/>
<circle cx="289.2" cy="181.6" r="1.85"/>
<circle cx="297.7" cy="161.4" r="1.85"/>
<circle cx="301.6" cy="168.1" r="1.85"/>
<circle cx="292.3" cy="181.6" r="1.85"/>
<circle cx="288.6" cy="195.1" r="1.85"/>
<circle cx="289.0" cy="171.5" r="1.85"/>
<circle cx="301.0" cy="124.3" r="1.85"/>
<circle cx="300.0" cy="147.9" r="1.85"/>
<circle cx="299.7" cy="158.0" r="1.85"/>
<circle cx="296.4" cy="134.4" r="1.85"/>
<circle cx="289.3" cy="158.0" r="1.85"/>
<circle cx="296.2" cy="127.7" r="1.85"/>
<circle cx="300.4" cy="137.8" r="1.85"/>
<circle cx="291.8" cy="174.8" r="1.85"/>
<circle cx="299.5" cy="134.4" r="1.85"/>
<circle cx="293.9" cy="137.8" r="1.85"/>
<circle cx="293.0" cy="87.5" r="1.85"/>
<circle cx="295.5" cy="158.0" r="1.85"/>
<circle cx="301.7" cy="144.5" r="1.85"/>
<circle cx="302.2" cy="151.2" r="1.85"/>
<circle cx="291.3" cy="195.1" r="1.85"/>
<circle cx="300.0" cy="188.3" r="1.85"/>
<circle cx="300.0" cy="154.6" r="1.85"/>
<circle cx="293.6" cy="171.5" r="1.85"/>
<circle cx="288.9" cy="174.8" r="1.85"/>
<circle cx="296.0" cy="124.3" r="1.85"/>
<circle cx="291.0" cy="137.8" r="1.85"/>
<circle cx="292.0" cy="114.4" r="1.85"/>
<circle cx="294.6" cy="174.8" r="1.85"/>
<circle cx="288.7" cy="151.2" r="1.85"/>
<circle cx="289.0" cy="144.5" r="1.85"/>
<circle cx="289.3" cy="134.4" r="1.85"/>
<circle cx="292.5" cy="91.0" r="1.85"/>
<circle cx="288.8" cy="161.4" r="1.85"/>
<circle cx="288.7" cy="188.3" r="1.85"/>
<circle cx="289.2" cy="141.1" r="1.85"/>
</g>
<path d="M124.5 136.6H134.9M124.5 168.4H134.9M129.7 136.6V168.4" stroke="#1c1c1c" stroke-width="1.3" fill="none"/>
<path d="M168.2 152.7H178.6M168.2 181.6H178.6M173.4 152.7V181.6" stroke="#1c1c1c" stroke-width="1.3" fill="none"/>
<path d="M247.4 109.8H257.8M247.4 191.8H257.8M252.6 109.8V191.8" stroke="#1c1c1c" stroke-width="1.3" fill="none"/>
<path d="M290.4 130.0H300.8M290.4 190.5H300.8M295.6 130.0V190.5" stroke="#1c1c1c" stroke-width="1.3" fill="none"/>
<path d="M84.0 44.9H79.7V200.7H339.9M79.7 122.8H84.0" stroke="#1a1a1a" stroke-width="1.4" fill="none" stroke-linejoin="miter"/>
<text x="72.6" y="48.8" text-anchor="end" fill="#222">50</text>
<text x="72.6" y="126.3" text-anchor="end" fill="#222">25</text>
<text x="72.6" y="204.2" text-anchor="end" fill="#222">0</text>
<text transform="translate(44.0 123.2) rotate(-90)" text-anchor="middle" fill="#222">Correct decoding (% words)</text>
<text x="202.7" y="31.9" text-anchor="middle" fill="#666">2 neurons</text>
<text x="150.7" y="224.9" text-anchor="middle" fill="#222">Sentences</text>
<text x="268.4" y="224.9" text-anchor="middle" fill="#222">Narratives</text>
<rect x="451.5" y="143.3" width="43.4" height="57.4" fill="#bfe1f4" stroke="#86c6e6" stroke-width="1"/>
<rect x="495.3" y="167.4" width="42.4" height="33.3" fill="#dcdcdc" stroke="#b4b4b4" stroke-width="1"/>
<rect x="575.5" y="139.5" width="43.3" height="61.2" fill="#bfe1f4" stroke="#86c6e6" stroke-width="1"/>
<rect x="619.2" y="160.3" width="42.6" height="40.4" fill="#dcdcdc" stroke="#b4b4b4" stroke-width="1"/>
<g fill="#fff" stroke="#2a6eb2" stroke-width="0.95">
<circle cx="476.2" cy="132.7" r="1.85"/>
<circle cx="475.6" cy="164.0" r="1.85"/>
<circle cx="470.8" cy="113.8" r="1.85"/>
<circle cx="470.7" cy="159.3" r="1.85"/>
<circle cx="477.4" cy="108.0" r="1.85"/>
<circle cx="470.6" cy="141.1" r="1.85"/>
<circle cx="473.9" cy="144.1" r="1.85"/>
<circle cx="478.3" cy="134.5" r="1.85"/>
<circle cx="469.2" cy="143.3" r="1.85"/>
<circle cx="475.7" cy="155.5" r="1.85"/>
<circle cx="475.3" cy="161.8" r="1.85"/>
<circle cx="472.1" cy="156.7" r="1.85"/>
<circle cx="471.3" cy="111.0" r="1.85"/>
<circle cx="472.5" cy="116.2" r="1.85"/>
<circle cx="479.5" cy="164.0" r="1.85"/>
<circle cx="474.6" cy="152.9" r="1.85"/>
<circle cx="472.6" cy="143.3" r="1.85"/>
<circle cx="469.6" cy="130.7" r="1.85"/>
<circle cx="477.3" cy="144.6" r="1.85"/>
<circle cx="471.1" cy="126.1" r="1.85"/>
<circle cx="467.5" cy="145.7" r="1.85"/>
<circle cx="469.5" cy="156.2" r="1.85"/>
<circle cx="469.7" cy="150.4" r="1.85"/>
<circle cx="473.6" cy="142.6" r="1.85"/>
<circle cx="469.3" cy="151.2" r="1.85"/>
<circle cx="470.8" cy="129.9" r="1.85"/>
<circle cx="478.1" cy="157.8" r="1.85"/>
<circle cx="473.7" cy="152.9" r="1.85"/>
<circle cx="470.6" cy="107.5" r="1.85"/>
<circle cx="478.9" cy="114.8" r="1.85"/>
<circle cx="477.6" cy="172.4" r="1.85"/>
<circle cx="466.5" cy="128.5" r="1.85"/>
<circle cx="472.8" cy="115.8" r="1.85"/>
<circle cx="475.5" cy="130.6" r="1.85"/>
<circle cx="478.0" cy="134.1" r="1.85"/>
<circle cx="477.0" cy="133.1" r="1.85"/>
<circle cx="478.9" cy="172.9" r="1.85"/>
<circle cx="468.1" cy="166.8" r="1.85"/>
<circle cx="478.4" cy="120.1" r="1.85"/>
<circle cx="478.9" cy="143.3" r="1.85"/>
<circle cx="478.7" cy="131.4" r="1.85"/>
<circle cx="477.8" cy="143.3" r="1.85"/>
<circle cx="478.4" cy="159.2" r="1.85"/>
<circle cx="479.3" cy="117.4" r="1.85"/>
<circle cx="474.8" cy="137.7" r="1.85"/>
<circle cx="473.5" cy="142.9" r="1.85"/>
<circle cx="477.1" cy="158.1" r="1.85"/>
<circle cx="478.8" cy="151.0" r="1.85"/>
<circle cx="474.8" cy="161.9" r="1.85"/>
<circle cx="478.7" cy="144.9" r="1.85"/>
<circle cx="478.1" cy="133.0" r="1.85"/>
<circle cx="478.1" cy="107.3" r="1.85"/>
<circle cx="475.4" cy="144.1" r="1.85"/>
<circle cx="474.8" cy="120.6" r="1.85"/>
<circle cx="470.7" cy="156.2" r="1.85"/>
<circle cx="466.2" cy="115.4" r="1.85"/>
<circle cx="478.4" cy="115.2" r="1.85"/>
<circle cx="478.9" cy="115.3" r="1.85"/>
<circle cx="467.9" cy="115.9" r="1.85"/>
<circle cx="469.1" cy="136.0" r="1.85"/>
<circle cx="480.0" cy="115.2" r="1.85"/>
<circle cx="470.7" cy="131.9" r="1.85"/>
<circle cx="476.4" cy="159.9" r="1.85"/>
<circle cx="475.9" cy="115.9" r="1.85"/>
<circle cx="468.1" cy="146.6" r="1.85"/>
<circle cx="477.6" cy="116.1" r="1.85"/>
<circle cx="467.0" cy="132.2" r="1.85"/>
<circle cx="472.0" cy="146.0" r="1.85"/>
<circle cx="476.8" cy="129.8" r="1.85"/>
<circle cx="473.5" cy="149.2" r="1.85"/>
<circle cx="475.5" cy="114.1" r="1.85"/>
<circle cx="470.4" cy="105.0" r="1.85"/>
<circle cx="466.6" cy="146.2" r="1.85"/>
<circle cx="472.9" cy="124.1" r="1.85"/>
<circle cx="479.5" cy="112.8" r="1.85"/>
<circle cx="479.1" cy="146.6" r="1.85"/>
<circle cx="476.1" cy="120.8" r="1.85"/>
<circle cx="476.4" cy="163.8" r="1.85"/>
<circle cx="471.4" cy="106.0" r="1.85"/>
<circle cx="473.3" cy="149.5" r="1.85"/>
<circle cx="477.2" cy="158.8" r="1.85"/>
<circle cx="474.6" cy="184.0" r="1.85"/>
<circle cx="480.1" cy="153.6" r="1.85"/>
<circle cx="469.7" cy="117.2" r="1.85"/>
<circle cx="478.3" cy="120.0" r="1.85"/>
<circle cx="471.2" cy="116.5" r="1.85"/>
<circle cx="473.6" cy="132.8" r="1.85"/>
<circle cx="477.0" cy="161.5" r="1.85"/>
<circle cx="476.2" cy="153.6" r="1.85"/>
<circle cx="468.8" cy="123.7" r="1.85"/>
<circle cx="476.4" cy="176.0" r="1.85"/>
<circle cx="470.7" cy="147.2" r="1.85"/>
<circle cx="475.8" cy="112.8" r="1.85"/>
<circle cx="478.3" cy="156.5" r="1.85"/>
<circle cx="466.5" cy="126.4" r="1.85"/>
<circle cx="477.1" cy="152.6" r="1.85"/>
<circle cx="476.8" cy="160.0" r="1.85"/>
<circle cx="467.3" cy="152.0" r="1.85"/>
<circle cx="466.7" cy="114.4" r="1.85"/>
<circle cx="472.1" cy="148.3" r="1.85"/>
<circle cx="474.6" cy="110.1" r="1.85"/>
<circle cx="471.2" cy="157.1" r="1.85"/>
<circle cx="478.1" cy="160.7" r="1.85"/>
<circle cx="470.4" cy="137.8" r="1.85"/>
<circle cx="471.8" cy="161.1" r="1.85"/>
<circle cx="471.8" cy="149.7" r="1.85"/>
<circle cx="478.5" cy="120.0" r="1.85"/>
<circle cx="471.5" cy="113.6" r="1.85"/>
<circle cx="477.9" cy="150.0" r="1.85"/>
<circle cx="474.6" cy="105.1" r="1.85"/>
<circle cx="479.1" cy="145.1" r="1.85"/>
<circle cx="470.3" cy="150.3" r="1.85"/>
<circle cx="479.6" cy="171.7" r="1.85"/>
<circle cx="477.1" cy="148.1" r="1.85"/>
<circle cx="467.1" cy="128.2" r="1.85"/>
<circle cx="470.9" cy="165.4" r="1.85"/>
<circle cx="468.5" cy="151.6" r="1.85"/>
<circle cx="475.8" cy="154.3" r="1.85"/>
<circle cx="472.7" cy="155.8" r="1.85"/>
<circle cx="477.7" cy="135.6" r="1.85"/>
<circle cx="467.5" cy="117.0" r="1.85"/>
<circle cx="475.9" cy="165.1" r="1.85"/>
<circle cx="475.6" cy="153.6" r="1.85"/>
<circle cx="468.4" cy="116.0" r="1.85"/>
<circle cx="478.1" cy="125.2" r="1.85"/>
<circle cx="479.6" cy="129.3" r="1.85"/>
<circle cx="472.9" cy="116.4" r="1.85"/>
<circle cx="471.8" cy="159.6" r="1.85"/>
<circle cx="479.5" cy="169.5" r="1.85"/>
<circle cx="469.4" cy="112.0" r="1.85"/>
<circle cx="471.3" cy="156.5" r="1.85"/>
<circle cx="468.8" cy="125.8" r="1.85"/>
<circle cx="475.1" cy="119.1" r="1.85"/>
<circle cx="472.4" cy="150.0" r="1.85"/>
<circle cx="473.5" cy="164.9" r="1.85"/>
<circle cx="475.6" cy="116.6" r="1.85"/>
<circle cx="478.5" cy="166.0" r="1.85"/>
<circle cx="474.3" cy="123.7" r="1.85"/>
<circle cx="479.8" cy="112.7" r="1.85"/>
<circle cx="473.5" cy="126.4" r="1.85"/>
<circle cx="479.0" cy="166.1" r="1.85"/>
<circle cx="476.3" cy="142.2" r="1.85"/>
<circle cx="471.3" cy="155.2" r="1.85"/>
<circle cx="474.0" cy="129.8" r="1.85"/>
<circle cx="478.1" cy="157.7" r="1.85"/>
<circle cx="466.4" cy="123.8" r="1.85"/>
<circle cx="469.4" cy="177.5" r="1.85"/>
<circle cx="470.7" cy="122.5" r="1.85"/>
<circle cx="470.5" cy="169.9" r="1.85"/>
<circle cx="467.0" cy="146.4" r="1.85"/>
<circle cx="476.7" cy="155.7" r="1.85"/>
<circle cx="469.7" cy="124.4" r="1.85"/>
<circle cx="470.6" cy="113.0" r="1.85"/>
<circle cx="473.3" cy="132.0" r="1.85"/>
<circle cx="477.1" cy="115.1" r="1.85"/>
<circle cx="466.5" cy="126.0" r="1.85"/>
<circle cx="476.4" cy="157.1" r="1.85"/>
<circle cx="467.0" cy="154.3" r="1.85"/>
<circle cx="477.3" cy="120.0" r="1.85"/>
<circle cx="472.4" cy="144.5" r="1.85"/>
<circle cx="469.6" cy="136.8" r="1.85"/>
<circle cx="470.6" cy="143.9" r="1.85"/>
<circle cx="477.9" cy="134.9" r="1.85"/>
<circle cx="475.9" cy="103.0" r="1.85"/>
<circle cx="479.1" cy="113.9" r="1.85"/>
<circle cx="468.4" cy="135.2" r="1.85"/>
<circle cx="471.7" cy="155.9" r="1.85"/>
<circle cx="479.6" cy="153.3" r="1.85"/>
<circle cx="474.6" cy="96.6" r="1.85"/>
<circle cx="468.5" cy="151.1" r="1.85"/>
<circle cx="479.0" cy="136.1" r="1.85"/>
<circle cx="478.6" cy="144.1" r="1.85"/>
<circle cx="471.6" cy="141.1" r="1.85"/>
<circle cx="472.4" cy="140.8" r="1.85"/>
<circle cx="474.1" cy="169.5" r="1.85"/>
<circle cx="477.5" cy="142.8" r="1.85"/>
<circle cx="469.4" cy="172.9" r="1.85"/>
<circle cx="480.1" cy="154.4" r="1.85"/>
<circle cx="467.0" cy="152.7" r="1.85"/>
<circle cx="476.7" cy="146.9" r="1.85"/>
<circle cx="470.1" cy="101.5" r="1.85"/>
<circle cx="473.1" cy="132.6" r="1.85"/>
<circle cx="472.4" cy="131.9" r="1.85"/>
<circle cx="472.7" cy="115.9" r="1.85"/>
<circle cx="477.7" cy="131.2" r="1.85"/>
<circle cx="470.6" cy="151.0" r="1.85"/>
<circle cx="474.7" cy="167.8" r="1.85"/>
<circle cx="478.8" cy="115.2" r="1.85"/>
<circle cx="477.8" cy="140.6" r="1.85"/>
<circle cx="480.0" cy="166.0" r="1.85"/>
<circle cx="466.6" cy="160.9" r="1.85"/>
<circle cx="472.8" cy="141.1" r="1.85"/>
<circle cx="474.8" cy="154.5" r="1.85"/>
<circle cx="468.6" cy="138.7" r="1.85"/>
<circle cx="470.7" cy="154.7" r="1.85"/>
<circle cx="469.8" cy="160.0" r="1.85"/>
<circle cx="469.5" cy="141.0" r="1.85"/>
<circle cx="472.5" cy="109.1" r="1.85"/>
<circle cx="469.9" cy="168.6" r="1.85"/>
<circle cx="470.7" cy="149.5" r="1.85"/>
<circle cx="468.7" cy="122.6" r="1.85"/>
<circle cx="473.2" cy="167.8" r="1.85"/>
<circle cx="466.6" cy="149.5" r="1.85"/>
<circle cx="472.7" cy="166.4" r="1.85"/>
<circle cx="477.4" cy="166.9" r="1.85"/>
<circle cx="468.7" cy="126.4" r="1.85"/>
<circle cx="476.9" cy="139.9" r="1.85"/>
<circle cx="478.6" cy="170.2" r="1.85"/>
<circle cx="472.6" cy="160.4" r="1.85"/>
<circle cx="478.2" cy="160.4" r="1.85"/>
<circle cx="479.4" cy="150.8" r="1.85"/>
<circle cx="471.9" cy="180.0" r="1.85"/>
<circle cx="480.3" cy="172.2" r="1.85"/>
<circle cx="472.8" cy="140.7" r="1.85"/>
<circle cx="468.3" cy="122.5" r="1.85"/>
<circle cx="476.2" cy="137.5" r="1.85"/>
<circle cx="473.4" cy="130.7" r="1.85"/>
</g>
<g fill="#fff" stroke="#48322a" stroke-width="0.95">
<circle cx="522.5" cy="171.2" r="1.85"/>
<circle cx="520.5" cy="174.7" r="1.85"/>
<circle cx="513.0" cy="171.6" r="1.85"/>
<circle cx="511.0" cy="130.0" r="1.85"/>
<circle cx="509.1" cy="139.6" r="1.85"/>
<circle cx="522.6" cy="160.3" r="1.85"/>
<circle cx="512.0" cy="150.1" r="1.85"/>
<circle cx="513.5" cy="158.3" r="1.85"/>
<circle cx="521.0" cy="163.3" r="1.85"/>
<circle cx="509.4" cy="157.7" r="1.85"/>
<circle cx="519.6" cy="153.0" r="1.85"/>
<circle cx="513.6" cy="191.3" r="1.85"/>
<circle cx="521.4" cy="166.8" r="1.85"/>
<circle cx="516.5" cy="155.9" r="1.85"/>
<circle cx="515.7" cy="178.2" r="1.85"/>
<circle cx="518.3" cy="182.6" r="1.85"/>
<circle cx="511.6" cy="161.5" r="1.85"/>
<circle cx="509.4" cy="174.8" r="1.85"/>
<circle cx="522.6" cy="166.9" r="1.85"/>
<circle cx="512.0" cy="149.5" r="1.85"/>
<circle cx="511.3" cy="162.4" r="1.85"/>
<circle cx="520.2" cy="188.2" r="1.85"/>
<circle cx="516.0" cy="162.8" r="1.85"/>
<circle cx="511.4" cy="189.2" r="1.85"/>
<circle cx="512.0" cy="190.0" r="1.85"/>
<circle cx="509.4" cy="181.8" r="1.85"/>
<circle cx="508.7" cy="163.8" r="1.85"/>
<circle cx="519.7" cy="142.7" r="1.85"/>
<circle cx="509.5" cy="185.0" r="1.85"/>
<circle cx="520.6" cy="150.9" r="1.85"/>
<circle cx="518.7" cy="171.1" r="1.85"/>
<circle cx="516.1" cy="148.6" r="1.85"/>
<circle cx="520.7" cy="193.2" r="1.85"/>
<circle cx="515.2" cy="161.4" r="1.85"/>
<circle cx="511.7" cy="195.3" r="1.85"/>
<circle cx="512.0" cy="186.6" r="1.85"/>
<circle cx="518.3" cy="192.4" r="1.85"/>
<circle cx="509.5" cy="162.8" r="1.85"/>
<circle cx="516.6" cy="157.2" r="1.85"/>
<circle cx="513.2" cy="157.1" r="1.85"/>
<circle cx="519.4" cy="148.3" r="1.85"/>
<circle cx="513.6" cy="164.0" r="1.85"/>
<circle cx="515.9" cy="165.9" r="1.85"/>
<circle cx="519.0" cy="180.6" r="1.85"/>
<circle cx="522.6" cy="161.4" r="1.85"/>
<circle cx="514.2" cy="167.3" r="1.85"/>
<circle cx="514.3" cy="168.5" r="1.85"/>
<circle cx="515.9" cy="167.0" r="1.85"/>
<circle cx="510.2" cy="159.2" r="1.85"/>
<circle cx="518.8" cy="167.2" r="1.85"/>
<circle cx="510.0" cy="168.2" r="1.85"/>
<circle cx="508.8" cy="164.5" r="1.85"/>
<circle cx="522.6" cy="149.1" r="1.85"/>
<circle cx="522.5" cy="176.9" r="1.85"/>
<circle cx="513.8" cy="143.5" r="1.85"/>
<circle cx="509.1" cy="174.2" r="1.85"/>
<circle cx="520.3" cy="140.1" r="1.85"/>
<circle cx="521.7" cy="163.1" r="1.85"/>
<circle cx="518.4" cy="172.3" r="1.85"/>
<circle cx="511.1" cy="171.9" r="1.85"/>
<circle cx="517.0" cy="119.5" r="1.85"/>
<circle cx="519.8" cy="151.1" r="1.85"/>
<circle cx="512.2" cy="177.8" r="1.85"/>
<circle cx="521.8" cy="169.9" r="1.85"/>
<circle cx="517.8" cy="172.9" r="1.85"/>
<circle cx="509.2" cy="155.4" r="1.85"/>
<circle cx="516.8" cy="166.2" r="1.85"/>
<circle cx="511.0" cy="148.9" r="1.85"/>
<circle cx="515.6" cy="149.9" r="1.85"/>
<circle cx="510.1" cy="176.9" r="1.85"/>
<circle cx="522.1" cy="149.5" r="1.85"/>
<circle cx="518.5" cy="158.3" r="1.85"/>
<circle cx="516.2" cy="171.3" r="1.85"/>
<circle cx="511.1" cy="181.4" r="1.85"/>
<circle cx="510.8" cy="177.8" r="1.85"/>
<circle cx="509.7" cy="170.7" r="1.85"/>
<circle cx="515.2" cy="162.9" r="1.85"/>
<circle cx="515.6" cy="153.1" r="1.85"/>
<circle cx="516.4" cy="175.0" r="1.85"/>
<circle cx="514.9" cy="193.5" r="1.85"/>
<circle cx="521.6" cy="140.2" r="1.85"/>
<circle cx="520.7" cy="185.0" r="1.85"/>
<circle cx="519.1" cy="176.4" r="1.85"/>
<circle cx="516.8" cy="191.8" r="1.85"/>
<circle cx="520.4" cy="188.5" r="1.85"/>
<circle cx="516.8" cy="186.4" r="1.85"/>
<circle cx="522.5" cy="158.3" r="1.85"/>
<circle cx="518.9" cy="188.2" r="1.85"/>
<circle cx="517.7" cy="160.2" r="1.85"/>
<circle cx="509.8" cy="154.6" r="1.85"/>
<circle cx="517.8" cy="180.2" r="1.85"/>
<circle cx="511.4" cy="194.1" r="1.85"/>
<circle cx="517.6" cy="182.0" r="1.85"/>
<circle cx="513.7" cy="145.7" r="1.85"/>
<circle cx="522.3" cy="140.4" r="1.85"/>
<circle cx="517.9" cy="150.2" r="1.85"/>
<circle cx="510.9" cy="176.2" r="1.85"/>
<circle cx="509.2" cy="156.1" r="1.85"/>
<circle cx="511.7" cy="158.8" r="1.85"/>
<circle cx="512.0" cy="149.4" r="1.85"/>
<circle cx="512.5" cy="167.3" r="1.85"/>
<circle cx="510.0" cy="168.1" r="1.85"/>
<circle cx="521.6" cy="146.1" r="1.85"/>
<circle cx="516.1" cy="163.7" r="1.85"/>
<circle cx="511.9" cy="167.5" r="1.85"/>
<circle cx="522.0" cy="125.5" r="1.85"/>
<circle cx="518.5" cy="155.0" r="1.85"/>
<circle cx="508.9" cy="154.5" r="1.85"/>
<circle cx="512.4" cy="166.9" r="1.85"/>
<circle cx="511.7" cy="180.2" r="1.85"/>
<circle cx="521.2" cy="138.3" r="1.85"/>
<circle cx="519.0" cy="125.5" r="1.85"/>
<circle cx="518.5" cy="131.5" r="1.85"/>
<circle cx="517.6" cy="193.5" r="1.85"/>
<circle cx="520.5" cy="172.7" r="1.85"/>
<circle cx="510.5" cy="176.5" r="1.85"/>
<circle cx="514.4" cy="178.5" r="1.85"/>
<circle cx="514.7" cy="183.2" r="1.85"/>
<circle cx="521.7" cy="165.2" r="1.85"/>
<circle cx="515.8" cy="140.8" r="1.85"/>
<circle cx="513.8" cy="168.7" r="1.85"/>
<circle cx="519.4" cy="158.7" r="1.85"/>
<circle cx="518.8" cy="162.8" r="1.85"/>
<circle cx="514.6" cy="172.9" r="1.85"/>
<circle cx="510.2" cy="180.0" r="1.85"/>
<circle cx="512.3" cy="175.6" r="1.85"/>
<circle cx="518.5" cy="167.4" r="1.85"/>
<circle cx="510.8" cy="176.6" r="1.85"/>
<circle cx="521.2" cy="191.1" r="1.85"/>
<circle cx="516.0" cy="165.7" r="1.85"/>
<circle cx="515.1" cy="162.1" r="1.85"/>
<circle cx="512.6" cy="195.8" r="1.85"/>
<circle cx="509.5" cy="166.9" r="1.85"/>
<circle cx="513.4" cy="192.4" r="1.85"/>
<circle cx="512.1" cy="176.7" r="1.85"/>
<circle cx="509.9" cy="151.8" r="1.85"/>
<circle cx="520.0" cy="186.5" r="1.85"/>
<circle cx="521.6" cy="169.9" r="1.85"/>
<circle cx="508.4" cy="173.6" r="1.85"/>
<circle cx="516.9" cy="139.6" r="1.85"/>
<circle cx="514.5" cy="165.1" r="1.85"/>
<circle cx="521.2" cy="186.1" r="1.85"/>
<circle cx="514.5" cy="167.8" r="1.85"/>
<circle cx="513.2" cy="184.5" r="1.85"/>
<circle cx="523.0" cy="133.0" r="1.85"/>
<circle cx="508.6" cy="188.5" r="1.85"/>
<circle cx="518.1" cy="185.4" r="1.85"/>
<circle cx="515.4" cy="134.0" r="1.85"/>
<circle cx="516.0" cy="164.5" r="1.85"/>
<circle cx="509.0" cy="193.6" r="1.85"/>
<circle cx="517.0" cy="155.1" r="1.85"/>
<circle cx="515.7" cy="144.2" r="1.85"/>
<circle cx="518.0" cy="193.5" r="1.85"/>
<circle cx="520.9" cy="172.8" r="1.85"/>
<circle cx="509.2" cy="195.6" r="1.85"/>
<circle cx="509.9" cy="146.8" r="1.85"/>
<circle cx="510.1" cy="184.2" r="1.85"/>
<circle cx="516.8" cy="138.3" r="1.85"/>
<circle cx="521.4" cy="147.5" r="1.85"/>
<circle cx="509.0" cy="186.1" r="1.85"/>
<circle cx="516.7" cy="149.2" r="1.85"/>
<circle cx="522.3" cy="166.9" r="1.85"/>
<circle cx="509.7" cy="115.2" r="1.85"/>
<circle cx="519.5" cy="159.4" r="1.85"/>
<circle cx="510.9" cy="168.9" r="1.85"/>
<circle cx="517.1" cy="186.7" r="1.85"/>
<circle cx="512.0" cy="151.0" r="1.85"/>
<circle cx="514.2" cy="179.9" r="1.85"/>
<circle cx="510.0" cy="165.4" r="1.85"/>
<circle cx="515.7" cy="142.1" r="1.85"/>
<circle cx="512.5" cy="142.7" r="1.85"/>
<circle cx="516.8" cy="178.1" r="1.85"/>
<circle cx="521.7" cy="165.9" r="1.85"/>
<circle cx="519.1" cy="164.9" r="1.85"/>
<circle cx="510.6" cy="169.5" r="1.85"/>
<circle cx="512.4" cy="136.0" r="1.85"/>
<circle cx="520.7" cy="187.4" r="1.85"/>
<circle cx="512.5" cy="162.0" r="1.85"/>
<circle cx="517.2" cy="181.1" r="1.85"/>
<circle cx="514.5" cy="125.5" r="1.85"/>
<circle cx="517.3" cy="160.2" r="1.85"/>
<circle cx="519.0" cy="172.0" r="1.85"/>
<circle cx="512.9" cy="175.3" r="1.85"/>
<circle cx="519.2" cy="182.9" r="1.85"/>
<circle cx="510.6" cy="141.5" r="1.85"/>
<circle cx="508.6" cy="166.9" r="1.85"/>
<circle cx="518.3" cy="177.6" r="1.85"/>
<circle cx="509.0" cy="195.6" r="1.85"/>
<circle cx="509.6" cy="194.5" r="1.85"/>
<circle cx="514.5" cy="153.0" r="1.85"/>
<circle cx="521.1" cy="156.5" r="1.85"/>
<circle cx="516.7" cy="179.1" r="1.85"/>
<circle cx="519.9" cy="162.8" r="1.85"/>
<circle cx="519.7" cy="185.5" r="1.85"/>
<circle cx="521.1" cy="171.3" r="1.85"/>
<circle cx="515.5" cy="143.6" r="1.85"/>
<circle cx="515.4" cy="195.3" r="1.85"/>
<circle cx="513.7" cy="160.3" r="1.85"/>
<circle cx="511.5" cy="190.6" r="1.85"/>
<circle cx="521.2" cy="154.3" r="1.85"/>
<circle cx="517.0" cy="188.8" r="1.85"/>
<circle cx="515.0" cy="162.2" r="1.85"/>
<circle cx="514.9" cy="156.4" r="1.85"/>
<circle cx="516.4" cy="175.3" r="1.85"/>
<circle cx="514.7" cy="155.9" r="1.85"/>
<circle cx="510.1" cy="150.2" r="1.85"/>
<circle cx="522.0" cy="170.5" r="1.85"/>
<circle cx="522.3" cy="144.5" r="1.85"/>
<circle cx="520.9" cy="174.2" r="1.85"/>
<circle cx="513.7" cy="161.7" r="1.85"/>
</g>
<g fill="#fff" stroke="#2a6eb2" stroke-width="0.95">
<circle cx="603.7" cy="107.4" r="1.85"/>
<circle cx="598.0" cy="110.8" r="1.85"/>
<circle cx="591.9" cy="97.3" r="1.85"/>
<circle cx="592.0" cy="188.3" r="1.85"/>
<circle cx="600.8" cy="134.4" r="1.85"/>
<circle cx="595.0" cy="117.6" r="1.85"/>
<circle cx="601.8" cy="181.6" r="1.85"/>
<circle cx="601.0" cy="164.7" r="1.85"/>
<circle cx="592.6" cy="134.4" r="1.85"/>
<circle cx="590.5" cy="174.8" r="1.85"/>
<circle cx="597.7" cy="90.6" r="1.85"/>
<circle cx="595.5" cy="104.1" r="1.85"/>
<circle cx="599.0" cy="137.8" r="1.85"/>
<circle cx="594.4" cy="110.8" r="1.85"/>
<circle cx="603.2" cy="174.8" r="1.85"/>
<circle cx="592.2" cy="117.6" r="1.85"/>
<circle cx="598.0" cy="181.6" r="1.85"/>
<circle cx="597.3" cy="198.4" r="1.85"/>
<circle cx="593.5" cy="174.8" r="1.85"/>
<circle cx="592.3" cy="164.7" r="1.85"/>
<circle cx="599.0" cy="168.1" r="1.85"/>
<circle cx="590.6" cy="114.2" r="1.85"/>
<circle cx="593.7" cy="161.4" r="1.85"/>
<circle cx="600.4" cy="174.8" r="1.85"/>
<circle cx="603.1" cy="147.9" r="1.85"/>
<circle cx="603.8" cy="164.7" r="1.85"/>
<circle cx="602.6" cy="178.2" r="1.85"/>
<circle cx="590.5" cy="90.6" r="1.85"/>
<circle cx="596.0" cy="84.0" r="1.85"/>
<circle cx="603.8" cy="100.7" r="1.85"/>
<circle cx="600.7" cy="110.8" r="1.85"/>
<circle cx="602.0" cy="87.5" r="1.85"/>
<circle cx="591.3" cy="184.9" r="1.85"/>
<circle cx="594.5" cy="107.4" r="1.85"/>
<circle cx="604.0" cy="158.0" r="1.85"/>
<circle cx="590.5" cy="181.6" r="1.85"/>
<circle cx="593.0" cy="144.5" r="1.85"/>
<circle cx="602.1" cy="137.8" r="1.85"/>
<circle cx="599.5" cy="161.4" r="1.85"/>
<circle cx="600.3" cy="107.4" r="1.85"/>
<circle cx="599.5" cy="87.5" r="1.85"/>
<circle cx="598.7" cy="131.0" r="1.85"/>
<circle cx="596.5" cy="171.5" r="1.85"/>
<circle cx="596.7" cy="161.4" r="1.85"/>
<circle cx="596.5" cy="87.5" r="1.85"/>
<circle cx="593.3" cy="114.2" r="1.85"/>
<circle cx="595.4" cy="168.1" r="1.85"/>
<circle cx="599.1" cy="184.9" r="1.85"/>
<circle cx="601.2" cy="171.5" r="1.85"/>
<circle cx="600.8" cy="100.7" r="1.85"/>
<circle cx="597.3" cy="94.0" r="1.85"/>
<circle cx="596.8" cy="188.3" r="1.85"/>
<circle cx="592.6" cy="171.5" r="1.85"/>
<circle cx="604.1" cy="161.4" r="1.85"/>
<circle cx="590.5" cy="178.2" r="1.85"/>
<circle cx="600.8" cy="188.3" r="1.85"/>
<circle cx="604.1" cy="114.2" r="1.85"/>
<circle cx="593.6" cy="181.6" r="1.85"/>
<circle cx="595.4" cy="100.7" r="1.85"/>
<circle cx="592.0" cy="137.8" r="1.85"/>
<circle cx="596.1" cy="114.2" r="1.85"/>
<circle cx="604.2" cy="191.7" r="1.85"/>
<circle cx="594.8" cy="97.3" r="1.85"/>
<circle cx="599.2" cy="147.9" r="1.85"/>
<circle cx="603.8" cy="188.3" r="1.85"/>
<circle cx="601.6" cy="127.7" r="1.85"/>
<circle cx="594.6" cy="178.2" r="1.85"/>
<circle cx="596.6" cy="141.1" r="1.85"/>
<circle cx="595.9" cy="131.0" r="1.85"/>
<circle cx="598.1" cy="164.7" r="1.85"/>
<circle cx="603.5" cy="120.9" r="1.85"/>
<circle cx="594.4" cy="94.0" r="1.85"/>
<circle cx="590.9" cy="161.4" r="1.85"/>
<circle cx="592.1" cy="147.9" r="1.85"/>
<circle cx="592.4" cy="104.1" r="1.85"/>
<circle cx="601.5" cy="90.6" r="1.85"/>
<circle cx="595.1" cy="164.7" r="1.85"/>
<circle cx="600.0" cy="114.2" r="1.85"/>
<circle cx="590.5" cy="84.0" r="1.85"/>
<circle cx="592.8" cy="154.6" r="1.85"/>
<circle cx="591.3" cy="94.0" r="1.85"/>
<circle cx="602.5" cy="144.5" r="1.85"/>
<circle cx="603.0" cy="151.2" r="1.85"/>
<circle cx="598.8" cy="154.6" r="1.85"/>
<circle cx="593.6" cy="191.7" r="1.85"/>
<circle cx="597.5" cy="151.2" r="1.85"/>
<circle cx="591.5" cy="168.1" r="1.85"/>
<circle cx="604.2" cy="184.9" r="1.85"/>
<circle cx="599.6" cy="120.9" r="1.85"/>
<circle cx="592.9" cy="131.0" r="1.85"/>
<circle cx="603.5" cy="110.8" r="1.85"/>
<circle cx="598.0" cy="127.7" r="1.85"/>
<circle cx="595.3" cy="80.5" r="1.85"/>
<circle cx="591.9" cy="100.7" r="1.85"/>
<circle cx="599.8" cy="178.2" r="1.85"/>
<circle cx="593.5" cy="90.6" r="1.85"/>
<circle cx="595.5" cy="154.6" r="1.85"/>
<circle cx="591.8" cy="141.1" r="1.85"/>
<circle cx="602.4" cy="131.0" r="1.85"/>
<circle cx="601.9" cy="168.1" r="1.85"/>
<circle cx="593.5" cy="87.5" r="1.85"/>
<circle cx="593.4" cy="120.9" r="1.85"/>
<circle cx="603.9" cy="171.5" r="1.85"/>
<circle cx="590.7" cy="124.3" r="1.85"/>
<circle cx="601.5" cy="104.1" r="1.85"/>
<circle cx="602.0" cy="117.6" r="1.85"/>
<circle cx="600.2" cy="124.3" r="1.85"/>
<circle cx="603.8" cy="97.3" r="1.85"/>
<circle cx="594.6" cy="151.2" r="1.85"/>
<circle cx="591.9" cy="158.0" r="1.85"/>
<circle cx="604.2" cy="90.6" r="1.85"/>
<circle cx="595.9" cy="137.8" r="1.85"/>
<circle cx="598.6" cy="104.1" r="1.85"/>
<circle cx="595.4" cy="158.0" r="1.85"/>
<circle cx="592.5" cy="127.7" r="1.85"/>
<circle cx="593.8" cy="124.3" r="1.85"/>
<circle cx="595.6" cy="147.9" r="1.85"/>
<circle cx="599.1" cy="117.6" r="1.85"/>
<circle cx="597.5" cy="144.5" r="1.85"/>
<circle cx="603.4" cy="141.1" r="1.85"/>
<circle cx="603.8" cy="124.3" r="1.85"/>
<circle cx="601.4" cy="191.7" r="1.85"/>
<circle cx="596.0" cy="134.4" r="1.85"/>
<circle cx="590.7" cy="107.4" r="1.85"/>
<circle cx="594.9" cy="184.9" r="1.85"/>
<circle cx="591.0" cy="198.4" r="1.85"/>
<circle cx="600.3" cy="97.3" r="1.85"/>
<circle cx="590.8" cy="191.7" r="1.85"/>
<circle cx="600.2" cy="198.4" r="1.85"/>
<circle cx="590.5" cy="110.8" r="1.85"/>
<circle cx="602.5" cy="154.6" r="1.85"/>
<circle cx="599.1" cy="158.0" r="1.85"/>
<circle cx="596.8" cy="120.9" r="1.85"/>
<circle cx="598.3" cy="191.7" r="1.85"/>
<circle cx="601.6" cy="94.0" r="1.85"/>
<circle cx="602.7" cy="77.0" r="1.85"/>
</g>
<g fill="#fff" stroke="#48322a" stroke-width="0.95">
<circle cx="633.7" cy="191.7" r="1.85"/>
<circle cx="634.6" cy="158.0" r="1.85"/>
<circle cx="636.9" cy="174.8" r="1.85"/>
<circle cx="646.7" cy="158.0" r="1.85"/>
<circle cx="634.0" cy="104.0" r="1.85"/>
<circle cx="641.4" cy="141.1" r="1.85"/>
<circle cx="633.9" cy="181.6" r="1.85"/>
<circle cx="641.3" cy="184.9" r="1.85"/>
<circle cx="635.3" cy="131.0" r="1.85"/>
<circle cx="641.0" cy="110.7" r="1.85"/>
<circle cx="636.1" cy="63.7" r="1.85"/>
<circle cx="641.5" cy="191.7" r="1.85"/>
<circle cx="643.2" cy="181.6" r="1.85"/>
<circle cx="634.4" cy="137.8" r="1.85"/>
<circle cx="640.5" cy="93.6" r="1.85"/>
<circle cx="644.8" cy="147.9" r="1.85"/>
<circle cx="646.5" cy="178.2" r="1.85"/>
<circle cx="646.3" cy="188.3" r="1.85"/>
<circle cx="643.5" cy="93.6" r="1.85"/>
<circle cx="639.0" cy="104.0" r="1.85"/>
<circle cx="646.5" cy="107.4" r="1.85"/>
<circle cx="643.5" cy="154.6" r="1.85"/>
<circle cx="644.0" cy="171.5" r="1.85"/>
<circle cx="643.3" cy="131.0" r="1.85"/>
<circle cx="643.4" cy="195.1" r="1.85"/>
<circle cx="643.4" cy="161.4" r="1.85"/>
<circle cx="642.6" cy="144.5" r="1.85"/>
<circle cx="645.1" cy="141.1" r="1.85"/>
<circle cx="643.6" cy="158.0" r="1.85"/>
<circle cx="636.6" cy="181.6" r="1.85"/>
<circle cx="635.1" cy="168.1" r="1.85"/>
<circle cx="633.6" cy="184.9" r="1.85"/>
<circle cx="638.7" cy="178.2" r="1.85"/>
<circle cx="646.0" cy="127.7" r="1.85"/>
<circle cx="636.0" cy="147.9" r="1.85"/>
<circle cx="638.2" cy="158.0" r="1.85"/>
<circle cx="646.5" cy="73.9" r="1.85"/>
<circle cx="646.5" cy="93.6" r="1.85"/>
<circle cx="647.0" cy="171.5" r="1.85"/>
<circle cx="647.2" cy="168.1" r="1.85"/>
<circle cx="638.6" cy="151.2" r="1.85"/>
<circle cx="637.8" cy="184.9" r="1.85"/>
<circle cx="640.4" cy="161.4" r="1.85"/>
<circle cx="641.0" cy="107.4" r="1.85"/>
<circle cx="641.0" cy="100.7" r="1.85"/>
<circle cx="646.7" cy="195.1" r="1.85"/>
<circle cx="645.0" cy="151.2" r="1.85"/>
<circle cx="636.7" cy="161.4" r="1.85"/>
<circle cx="647.1" cy="184.9" r="1.85"/>
<circle cx="643.7" cy="137.8" r="1.85"/>
<circle cx="637.7" cy="171.5" r="1.85"/>
<circle cx="646.6" cy="181.6" r="1.85"/>
<circle cx="634.9" cy="171.5" r="1.85"/>
<circle cx="635.7" cy="151.2" r="1.85"/>
<circle cx="643.8" cy="174.8" r="1.85"/>
<circle cx="646.9" cy="174.8" r="1.85"/>
<circle cx="639.5" cy="188.3" r="1.85"/>
<circle cx="637.0" cy="154.6" r="1.85"/>
<circle cx="646.5" cy="124.3" r="1.85"/>
<circle cx="643.0" cy="188.3" r="1.85"/>
<circle cx="647.0" cy="137.8" r="1.85"/>
<circle cx="636.6" cy="188.3" r="1.85"/>
<circle cx="637.3" cy="144.5" r="1.85"/>
<circle cx="644.0" cy="184.9" r="1.85"/>
<circle cx="635.0" cy="107.4" r="1.85"/>
<circle cx="639.9" cy="164.7" r="1.85"/>
<circle cx="634.5" cy="124.3" r="1.85"/>
<circle cx="633.6" cy="178.2" r="1.85"/>
<circle cx="643.6" cy="178.2" r="1.85"/>
<circle cx="633.6" cy="154.6" r="1.85"/>
<circle cx="647.1" cy="191.7" r="1.85"/>
<circle cx="637.7" cy="195.1" r="1.85"/>
<circle cx="640.8" cy="174.8" r="1.85"/>
<circle cx="640.4" cy="154.6" r="1.85"/>
<circle cx="644.2" cy="168.1" r="1.85"/>
<circle cx="640.8" cy="171.5" r="1.85"/>
<circle cx="634.5" cy="121.0" r="1.85"/>
<circle cx="636.4" cy="141.1" r="1.85"/>
<circle cx="634.5" cy="100.7" r="1.85"/>
<circle cx="642.3" cy="127.7" r="1.85"/>
<circle cx="635.7" cy="164.7" r="1.85"/>
<circle cx="640.5" cy="168.1" r="1.85"/>
<circle cx="645.0" cy="164.7" r="1.85"/>
<circle cx="633.6" cy="141.1" r="1.85"/>
<circle cx="640.0" cy="117.8" r="1.85"/>
<circle cx="646.3" cy="161.4" r="1.85"/>
<circle cx="642.3" cy="198.4" r="1.85"/>
<circle cx="638.8" cy="137.8" r="1.85"/>
<circle cx="646.4" cy="131.0" r="1.85"/>
<circle cx="645.5" cy="117.8" r="1.85"/>
<circle cx="641.9" cy="151.2" r="1.85"/>
<circle cx="633.7" cy="144.5" r="1.85"/>
<circle cx="633.6" cy="161.4" r="1.85"/>
<circle cx="635.2" cy="127.7" r="1.85"/>
<circle cx="641.4" cy="147.9" r="1.85"/>
<circle cx="639.2" cy="198.4" r="1.85"/>
<circle cx="639.8" cy="181.6" r="1.85"/>
<circle cx="645.9" cy="144.5" r="1.85"/>
</g>
<path d="M468.1 124.9H478.5M468.1 159.5H478.5M473.3 124.9V159.5" stroke="#1c1c1c" stroke-width="1.3" fill="none"/>
<path d="M510.2 149.8H520.6M510.2 182.5H520.6M515.4 149.8V182.5" stroke="#1c1c1c" stroke-width="1.3" fill="none"/>
<path d="M591.8 104.8H602.2M591.8 174.4H602.2M597.0 104.8V174.4" stroke="#1c1c1c" stroke-width="1.3" fill="none"/>
<path d="M635.5 135.7H645.9M635.5 185.5H645.9M640.7 135.7V185.5" stroke="#1c1c1c" stroke-width="1.3" fill="none"/>
<path d="M427.4 44.9H423.1V200.7H683.3M423.1 122.8H427.4" stroke="#1a1a1a" stroke-width="1.4" fill="none" stroke-linejoin="miter"/>
<text x="416.0" y="48.8" text-anchor="end" fill="#222">50</text>
<text x="416.0" y="126.3" text-anchor="end" fill="#222">25</text>
<text x="416.0" y="204.2" text-anchor="end" fill="#222">0</text>
<text transform="translate(385.1 123.2) rotate(-90)" x="-93.4" dx="0 0 0 0 0 0 0 2.4" fill="#222">Correct decoding (% words)</text>
<text x="546.2" y="31.9" text-anchor="middle" fill="#666">5 neurons</text>
<text x="494.1" y="224.9" text-anchor="middle" fill="#222">Sentences</text>
<text x="611.8" y="224.9" text-anchor="middle" fill="#222">Narratives</text>
<rect x="104.1" y="397.8" width="43.4" height="49.1" fill="#bfe1f4" stroke="#86c6e6" stroke-width="1"/>
<rect x="147.9" y="412.6" width="42.7" height="34.3" fill="#dcdcdc" stroke="#b4b4b4" stroke-width="1"/>
<rect x="226.9" y="392.8" width="43.2" height="54.2" fill="#bfe1f4" stroke="#86c6e6" stroke-width="1"/>
<rect x="270.5" y="415.2" width="42.7" height="31.7" fill="#dcdcdc" stroke="#b4b4b4" stroke-width="1"/>
<g fill="#fff" stroke="#2a6eb2" stroke-width="0.95">
<circle cx="126.6" cy="393.7" r="1.85"/>
<circle cx="120.9" cy="365.6" r="1.85"/>
<circle cx="119.5" cy="358.2" r="1.85"/>
<circle cx="121.1" cy="390.2" r="1.85"/>
<circle cx="127.6" cy="386.1" r="1.85"/>
<circle cx="132.7" cy="383.4" r="1.85"/>
<circle cx="126.3" cy="382.5" r="1.85"/>
<circle cx="131.2" cy="409.8" r="1.85"/>
<circle cx="131.4" cy="389.6" r="1.85"/>
<circle cx="127.6" cy="381.4" r="1.85"/>
<circle cx="133.2" cy="363.8" r="1.85"/>
<circle cx="121.7" cy="391.9" r="1.85"/>
<circle cx="132.3" cy="419.4" r="1.85"/>
<circle cx="121.5" cy="406.1" r="1.85"/>
<circle cx="124.6" cy="384.3" r="1.85"/>
<circle cx="127.5" cy="420.3" r="1.85"/>
<circle cx="123.7" cy="404.4" r="1.85"/>
<circle cx="119.5" cy="401.4" r="1.85"/>
<circle cx="129.0" cy="359.2" r="1.85"/>
<circle cx="123.1" cy="384.1" r="1.85"/>
<circle cx="127.1" cy="365.4" r="1.85"/>
<circle cx="129.6" cy="423.2" r="1.85"/>
<circle cx="128.8" cy="394.1" r="1.85"/>
<circle cx="129.1" cy="402.9" r="1.85"/>
<circle cx="127.3" cy="372.2" r="1.85"/>
<circle cx="128.6" cy="398.8" r="1.85"/>
<circle cx="124.3" cy="386.7" r="1.85"/>
<circle cx="126.9" cy="380.4" r="1.85"/>
<circle cx="133.2" cy="420.2" r="1.85"/>
<circle cx="125.3" cy="403.2" r="1.85"/>
<circle cx="132.8" cy="411.1" r="1.85"/>
<circle cx="127.0" cy="379.5" r="1.85"/>
<circle cx="127.2" cy="417.2" r="1.85"/>
<circle cx="129.7" cy="387.8" r="1.85"/>
<circle cx="126.0" cy="373.9" r="1.85"/>
<circle cx="119.8" cy="379.6" r="1.85"/>
<circle cx="120.2" cy="369.1" r="1.85"/>
<circle cx="126.2" cy="375.3" r="1.85"/>
<circle cx="131.3" cy="388.7" r="1.85"/>
<circle cx="123.7" cy="410.6" r="1.85"/>
<circle cx="126.3" cy="411.7" r="1.85"/>
<circle cx="122.7" cy="377.4" r="1.85"/>
<circle cx="124.0" cy="419.1" r="1.85"/>
<circle cx="124.9" cy="426.4" r="1.85"/>
<circle cx="129.9" cy="410.6" r="1.85"/>
<circle cx="128.9" cy="416.7" r="1.85"/>
<circle cx="129.7" cy="427.1" r="1.85"/>
<circle cx="129.2" cy="366.6" r="1.85"/>
<circle cx="130.0" cy="410.8" r="1.85"/>
<circle cx="123.0" cy="383.1" r="1.85"/>
<circle cx="124.0" cy="381.4" r="1.85"/>
<circle cx="122.5" cy="409.4" r="1.85"/>
<circle cx="119.5" cy="375.1" r="1.85"/>
<circle cx="124.9" cy="389.4" r="1.85"/>
<circle cx="131.9" cy="418.0" r="1.85"/>
<circle cx="131.2" cy="380.6" r="1.85"/>
<circle cx="128.7" cy="420.2" r="1.85"/>
<circle cx="123.0" cy="377.3" r="1.85"/>
<circle cx="128.9" cy="366.3" r="1.85"/>
<circle cx="131.1" cy="387.6" r="1.85"/>
<circle cx="124.4" cy="368.9" r="1.85"/>
<circle cx="121.3" cy="409.6" r="1.85"/>
<circle cx="126.7" cy="400.6" r="1.85"/>
<circle cx="124.4" cy="404.2" r="1.85"/>
<circle cx="126.7" cy="395.2" r="1.85"/>
<circle cx="123.7" cy="404.7" r="1.85"/>
<circle cx="131.1" cy="400.5" r="1.85"/>
<circle cx="121.4" cy="376.3" r="1.85"/>
<circle cx="128.0" cy="391.0" r="1.85"/>
<circle cx="133.1" cy="367.8" r="1.85"/>
<circle cx="126.9" cy="420.6" r="1.85"/>
<circle cx="119.5" cy="381.2" r="1.85"/>
<circle cx="123.8" cy="422.7" r="1.85"/>
<circle cx="128.3" cy="403.4" r="1.85"/>
<circle cx="127.3" cy="418.0" r="1.85"/>
<circle cx="125.7" cy="407.0" r="1.85"/>
<circle cx="131.2" cy="404.6" r="1.85"/>
<circle cx="127.4" cy="401.5" r="1.85"/>
<circle cx="123.4" cy="400.1" r="1.85"/>
<circle cx="129.0" cy="404.6" r="1.85"/>
<circle cx="121.9" cy="372.0" r="1.85"/>
<circle cx="124.5" cy="410.6" r="1.85"/>
<circle cx="121.8" cy="423.4" r="1.85"/>
<circle cx="120.4" cy="398.1" r="1.85"/>
<circle cx="119.6" cy="393.0" r="1.85"/>
<circle cx="128.4" cy="401.5" r="1.85"/>
<circle cx="127.1" cy="401.3" r="1.85"/>
<circle cx="127.1" cy="388.0" r="1.85"/>
<circle cx="124.8" cy="417.6" r="1.85"/>
<circle cx="128.0" cy="420.2" r="1.85"/>
<circle cx="130.2" cy="394.1" r="1.85"/>
<circle cx="128.6" cy="404.4" r="1.85"/>
<circle cx="125.9" cy="397.8" r="1.85"/>
<circle cx="127.3" cy="413.8" r="1.85"/>
<circle cx="130.1" cy="409.3" r="1.85"/>
<circle cx="132.2" cy="395.8" r="1.85"/>
<circle cx="130.0" cy="409.4" r="1.85"/>
<circle cx="132.7" cy="409.9" r="1.85"/>
<circle cx="126.5" cy="405.2" r="1.85"/>
<circle cx="125.0" cy="413.9" r="1.85"/>
<circle cx="124.0" cy="419.3" r="1.85"/>
<circle cx="129.1" cy="369.6" r="1.85"/>
<circle cx="120.1" cy="401.5" r="1.85"/>
<circle cx="131.1" cy="375.5" r="1.85"/>
<circle cx="126.6" cy="379.4" r="1.85"/>
<circle cx="120.5" cy="393.8" r="1.85"/>
<circle cx="131.4" cy="375.8" r="1.85"/>
<circle cx="121.1" cy="398.6" r="1.85"/>
<circle cx="123.0" cy="380.1" r="1.85"/>
<circle cx="131.2" cy="400.0" r="1.85"/>
<circle cx="127.1" cy="375.1" r="1.85"/>
<circle cx="131.4" cy="371.7" r="1.85"/>
<circle cx="125.6" cy="385.3" r="1.85"/>
<circle cx="130.9" cy="364.3" r="1.85"/>
<circle cx="133.3" cy="392.5" r="1.85"/>
<circle cx="131.0" cy="392.1" r="1.85"/>
<circle cx="120.2" cy="389.5" r="1.85"/>
<circle cx="124.8" cy="412.6" r="1.85"/>
<circle cx="124.7" cy="381.7" r="1.85"/>
<circle cx="133.1" cy="406.7" r="1.85"/>
<circle cx="129.2" cy="413.8" r="1.85"/>
<circle cx="125.3" cy="414.5" r="1.85"/>
<circle cx="120.5" cy="353.2" r="1.85"/>
<circle cx="125.0" cy="369.1" r="1.85"/>
<circle cx="128.4" cy="373.7" r="1.85"/>
<circle cx="130.6" cy="386.0" r="1.85"/>
<circle cx="129.2" cy="394.8" r="1.85"/>
<circle cx="132.9" cy="392.7" r="1.85"/>
<circle cx="128.5" cy="391.9" r="1.85"/>
<circle cx="119.8" cy="387.3" r="1.85"/>
<circle cx="132.5" cy="367.4" r="1.85"/>
<circle cx="119.8" cy="377.3" r="1.85"/>
<circle cx="129.1" cy="400.4" r="1.85"/>
<circle cx="124.9" cy="420.2" r="1.85"/>
<circle cx="133.2" cy="385.8" r="1.85"/>
<circle cx="131.8" cy="420.4" r="1.85"/>
<circle cx="127.7" cy="397.6" r="1.85"/>
<circle cx="130.8" cy="396.1" r="1.85"/>
<circle cx="124.6" cy="406.6" r="1.85"/>
<circle cx="133.3" cy="373.0" r="1.85"/>
<circle cx="120.3" cy="422.7" r="1.85"/>
<circle cx="133.4" cy="367.1" r="1.85"/>
<circle cx="122.4" cy="389.0" r="1.85"/>
<circle cx="125.5" cy="383.6" r="1.85"/>
<circle cx="125.4" cy="388.8" r="1.85"/>
<circle cx="129.7" cy="390.8" r="1.85"/>
<circle cx="133.3" cy="389.6" r="1.85"/>
<circle cx="128.5" cy="411.5" r="1.85"/>
<circle cx="121.9" cy="421.4" r="1.85"/>
<circle cx="127.5" cy="420.1" r="1.85"/>
<circle cx="128.5" cy="394.0" r="1.85"/>
<circle cx="131.8" cy="412.2" r="1.85"/>
<circle cx="125.1" cy="372.9" r="1.85"/>
<circle cx="126.5" cy="387.7" r="1.85"/>
<circle cx="129.7" cy="391.3" r="1.85"/>
<circle cx="126.4" cy="386.5" r="1.85"/>
<circle cx="120.5" cy="400.0" r="1.85"/>
<circle cx="132.7" cy="411.2" r="1.85"/>
<circle cx="125.2" cy="402.7" r="1.85"/>
<circle cx="128.6" cy="368.6" r="1.85"/>
<circle cx="121.1" cy="399.2" r="1.85"/>
<circle cx="131.5" cy="420.7" r="1.85"/>
<circle cx="122.3" cy="392.5" r="1.85"/>
<circle cx="120.7" cy="416.8" r="1.85"/>
<circle cx="121.7" cy="407.4" r="1.85"/>
<circle cx="126.4" cy="413.3" r="1.85"/>
<circle cx="128.5" cy="417.8" r="1.85"/>
<circle cx="121.0" cy="412.7" r="1.85"/>
<circle cx="124.0" cy="431.2" r="1.85"/>
<circle cx="122.1" cy="394.4" r="1.85"/>
<circle cx="129.4" cy="391.5" r="1.85"/>
<circle cx="133.6" cy="404.4" r="1.85"/>
<circle cx="131.0" cy="408.4" r="1.85"/>
<circle cx="121.7" cy="415.2" r="1.85"/>
<circle cx="129.8" cy="373.7" r="1.85"/>
<circle cx="132.4" cy="403.1" r="1.85"/>
<circle cx="130.6" cy="393.3" r="1.85"/>
<circle cx="125.2" cy="382.5" r="1.85"/>
<circle cx="124.1" cy="366.8" r="1.85"/>
<circle cx="124.7" cy="394.6" r="1.85"/>
<circle cx="125.4" cy="386.5" r="1.85"/>
<circle cx="124.4" cy="387.6" r="1.85"/>
<circle cx="127.7" cy="398.0" r="1.85"/>
<circle cx="121.5" cy="420.3" r="1.85"/>
<circle cx="126.7" cy="391.2" r="1.85"/>
<circle cx="122.4" cy="397.1" r="1.85"/>
<circle cx="129.2" cy="406.8" r="1.85"/>
<circle cx="133.3" cy="403.4" r="1.85"/>
<circle cx="124.5" cy="394.8" r="1.85"/>
<circle cx="124.1" cy="382.6" r="1.85"/>
<circle cx="127.6" cy="366.1" r="1.85"/>
<circle cx="130.0" cy="419.7" r="1.85"/>
<circle cx="126.0" cy="435.9" r="1.85"/>
<circle cx="121.1" cy="412.7" r="1.85"/>
<circle cx="123.0" cy="397.1" r="1.85"/>
<circle cx="122.0" cy="395.0" r="1.85"/>
<circle cx="132.3" cy="398.4" r="1.85"/>
<circle cx="125.9" cy="391.4" r="1.85"/>
<circle cx="133.5" cy="410.7" r="1.85"/>
<circle cx="127.3" cy="368.2" r="1.85"/>
<circle cx="120.9" cy="391.6" r="1.85"/>
<circle cx="132.3" cy="409.4" r="1.85"/>
<circle cx="132.1" cy="377.6" r="1.85"/>
<circle cx="121.4" cy="401.7" r="1.85"/>
<circle cx="132.1" cy="421.3" r="1.85"/>
</g>
<g fill="#fff" stroke="#48322a" stroke-width="0.95">
<circle cx="171.8" cy="393.8" r="1.85"/>
<circle cx="163.3" cy="409.9" r="1.85"/>
<circle cx="165.5" cy="389.3" r="1.85"/>
<circle cx="171.9" cy="400.3" r="1.85"/>
<circle cx="168.4" cy="419.8" r="1.85"/>
<circle cx="162.6" cy="426.0" r="1.85"/>
<circle cx="164.7" cy="413.6" r="1.85"/>
<circle cx="171.2" cy="410.0" r="1.85"/>
<circle cx="168.5" cy="424.4" r="1.85"/>
<circle cx="174.9" cy="389.9" r="1.85"/>
<circle cx="172.3" cy="420.4" r="1.85"/>
<circle cx="167.0" cy="386.2" r="1.85"/>
<circle cx="174.5" cy="436.8" r="1.85"/>
<circle cx="173.8" cy="396.9" r="1.85"/>
<circle cx="166.4" cy="418.9" r="1.85"/>
<circle cx="172.7" cy="404.5" r="1.85"/>
<circle cx="164.5" cy="386.4" r="1.85"/>
<circle cx="175.7" cy="430.6" r="1.85"/>
<circle cx="172.6" cy="414.8" r="1.85"/>
<circle cx="168.0" cy="385.5" r="1.85"/>
<circle cx="163.6" cy="391.5" r="1.85"/>
<circle cx="175.1" cy="395.8" r="1.85"/>
<circle cx="174.6" cy="423.4" r="1.85"/>
<circle cx="170.5" cy="400.2" r="1.85"/>
<circle cx="168.6" cy="407.9" r="1.85"/>
<circle cx="165.3" cy="422.9" r="1.85"/>
<circle cx="164.3" cy="418.3" r="1.85"/>
<circle cx="167.0" cy="418.5" r="1.85"/>
<circle cx="166.0" cy="368.2" r="1.85"/>
<circle cx="162.5" cy="425.4" r="1.85"/>
<circle cx="176.1" cy="419.3" r="1.85"/>
<circle cx="168.5" cy="392.2" r="1.85"/>
<circle cx="165.5" cy="428.6" r="1.85"/>
<circle cx="168.5" cy="386.7" r="1.85"/>
<circle cx="166.1" cy="396.2" r="1.85"/>
<circle cx="172.7" cy="428.5" r="1.85"/>
<circle cx="166.3" cy="420.7" r="1.85"/>
<circle cx="164.0" cy="396.2" r="1.85"/>
<circle cx="176.2" cy="409.8" r="1.85"/>
<circle cx="171.9" cy="406.2" r="1.85"/>
<circle cx="174.1" cy="408.1" r="1.85"/>
<circle cx="169.8" cy="416.2" r="1.85"/>
<circle cx="164.8" cy="408.9" r="1.85"/>
<circle cx="174.1" cy="396.8" r="1.85"/>
<circle cx="175.6" cy="407.1" r="1.85"/>
<circle cx="175.8" cy="413.5" r="1.85"/>
<circle cx="166.1" cy="392.7" r="1.85"/>
<circle cx="176.4" cy="417.1" r="1.85"/>
<circle cx="174.4" cy="386.8" r="1.85"/>
<circle cx="163.3" cy="413.5" r="1.85"/>
<circle cx="169.3" cy="425.2" r="1.85"/>
<circle cx="173.3" cy="401.9" r="1.85"/>
<circle cx="172.3" cy="390.7" r="1.85"/>
<circle cx="171.9" cy="423.7" r="1.85"/>
<circle cx="165.2" cy="428.1" r="1.85"/>
<circle cx="167.5" cy="421.9" r="1.85"/>
<circle cx="172.0" cy="417.1" r="1.85"/>
<circle cx="169.7" cy="411.4" r="1.85"/>
<circle cx="169.0" cy="357.9" r="1.85"/>
<circle cx="168.9" cy="426.0" r="1.85"/>
<circle cx="168.9" cy="429.4" r="1.85"/>
<circle cx="165.6" cy="424.8" r="1.85"/>
<circle cx="172.1" cy="420.9" r="1.85"/>
<circle cx="171.1" cy="407.6" r="1.85"/>
<circle cx="173.7" cy="424.5" r="1.85"/>
<circle cx="166.6" cy="397.1" r="1.85"/>
<circle cx="167.6" cy="410.7" r="1.85"/>
<circle cx="176.5" cy="401.0" r="1.85"/>
<circle cx="167.9" cy="396.3" r="1.85"/>
<circle cx="172.0" cy="381.2" r="1.85"/>
<circle cx="169.1" cy="422.9" r="1.85"/>
<circle cx="166.8" cy="401.4" r="1.85"/>
<circle cx="175.9" cy="401.5" r="1.85"/>
<circle cx="169.6" cy="418.0" r="1.85"/>
<circle cx="164.2" cy="407.1" r="1.85"/>
<circle cx="165.8" cy="405.7" r="1.85"/>
<circle cx="173.0" cy="396.1" r="1.85"/>
<circle cx="169.9" cy="413.9" r="1.85"/>
<circle cx="169.7" cy="422.6" r="1.85"/>
<circle cx="175.4" cy="405.0" r="1.85"/>
<circle cx="164.0" cy="372.2" r="1.85"/>
<circle cx="168.7" cy="411.6" r="1.85"/>
<circle cx="171.8" cy="405.8" r="1.85"/>
<circle cx="166.5" cy="416.6" r="1.85"/>
<circle cx="176.2" cy="407.0" r="1.85"/>
<circle cx="169.5" cy="411.6" r="1.85"/>
<circle cx="175.1" cy="416.5" r="1.85"/>
<circle cx="166.9" cy="420.3" r="1.85"/>
<circle cx="164.0" cy="433.4" r="1.85"/>
<circle cx="167.7" cy="393.2" r="1.85"/>
<circle cx="169.0" cy="438.1" r="1.85"/>
<circle cx="162.8" cy="421.8" r="1.85"/>
<circle cx="175.5" cy="400.0" r="1.85"/>
<circle cx="163.4" cy="388.7" r="1.85"/>
<circle cx="169.5" cy="418.3" r="1.85"/>
<circle cx="169.5" cy="425.8" r="1.85"/>
<circle cx="174.8" cy="394.0" r="1.85"/>
<circle cx="172.9" cy="412.1" r="1.85"/>
<circle cx="171.3" cy="403.0" r="1.85"/>
<circle cx="166.4" cy="386.5" r="1.85"/>
<circle cx="163.4" cy="401.3" r="1.85"/>
<circle cx="174.4" cy="392.3" r="1.85"/>
<circle cx="164.9" cy="422.5" r="1.85"/>
<circle cx="172.7" cy="428.8" r="1.85"/>
<circle cx="167.2" cy="421.0" r="1.85"/>
<circle cx="175.4" cy="404.4" r="1.85"/>
<circle cx="169.5" cy="404.0" r="1.85"/>
<circle cx="172.9" cy="419.8" r="1.85"/>
<circle cx="171.6" cy="400.8" r="1.85"/>
<circle cx="171.2" cy="408.1" r="1.85"/>
<circle cx="163.3" cy="425.4" r="1.85"/>
<circle cx="165.4" cy="395.6" r="1.85"/>
<circle cx="162.8" cy="409.6" r="1.85"/>
<circle cx="174.1" cy="423.2" r="1.85"/>
<circle cx="168.4" cy="410.2" r="1.85"/>
<circle cx="163.5" cy="395.1" r="1.85"/>
<circle cx="166.1" cy="389.6" r="1.85"/>
<circle cx="170.3" cy="424.9" r="1.85"/>
<circle cx="168.5" cy="426.5" r="1.85"/>
<circle cx="168.4" cy="411.0" r="1.85"/>
<circle cx="176.5" cy="407.6" r="1.85"/>
<circle cx="171.5" cy="400.7" r="1.85"/>
<circle cx="168.6" cy="430.0" r="1.85"/>
<circle cx="165.8" cy="432.2" r="1.85"/>
<circle cx="165.1" cy="435.9" r="1.85"/>
<circle cx="170.7" cy="393.6" r="1.85"/>
<circle cx="168.9" cy="403.1" r="1.85"/>
<circle cx="168.0" cy="441.8" r="1.85"/>
<circle cx="169.9" cy="406.1" r="1.85"/>
<circle cx="173.6" cy="428.8" r="1.85"/>
<circle cx="173.0" cy="393.3" r="1.85"/>
<circle cx="176.4" cy="408.3" r="1.85"/>
<circle cx="169.6" cy="415.1" r="1.85"/>
<circle cx="175.6" cy="409.3" r="1.85"/>
<circle cx="176.3" cy="392.2" r="1.85"/>
<circle cx="164.8" cy="385.9" r="1.85"/>
<circle cx="172.4" cy="407.9" r="1.85"/>
<circle cx="175.3" cy="393.8" r="1.85"/>
<circle cx="172.5" cy="419.2" r="1.85"/>
<circle cx="171.5" cy="419.1" r="1.85"/>
<circle cx="166.7" cy="414.5" r="1.85"/>
<circle cx="168.4" cy="428.4" r="1.85"/>
<circle cx="168.3" cy="417.7" r="1.85"/>
<circle cx="169.8" cy="417.9" r="1.85"/>
<circle cx="175.5" cy="370.8" r="1.85"/>
<circle cx="170.3" cy="403.7" r="1.85"/>
<circle cx="173.9" cy="389.3" r="1.85"/>
<circle cx="172.5" cy="403.8" r="1.85"/>
<circle cx="162.3" cy="406.1" r="1.85"/>
<circle cx="168.4" cy="398.7" r="1.85"/>
<circle cx="168.6" cy="415.3" r="1.85"/>
<circle cx="168.0" cy="412.6" r="1.85"/>
<circle cx="168.9" cy="406.5" r="1.85"/>
<circle cx="165.2" cy="404.2" r="1.85"/>
<circle cx="164.1" cy="428.9" r="1.85"/>
<circle cx="166.6" cy="392.2" r="1.85"/>
<circle cx="168.3" cy="410.8" r="1.85"/>
<circle cx="165.7" cy="400.4" r="1.85"/>
<circle cx="165.7" cy="422.4" r="1.85"/>
<circle cx="173.0" cy="399.5" r="1.85"/>
<circle cx="175.7" cy="419.4" r="1.85"/>
<circle cx="163.8" cy="423.8" r="1.85"/>
<circle cx="163.8" cy="390.5" r="1.85"/>
<circle cx="163.9" cy="394.5" r="1.85"/>
<circle cx="172.9" cy="412.2" r="1.85"/>
<circle cx="162.9" cy="418.1" r="1.85"/>
<circle cx="173.0" cy="406.5" r="1.85"/>
<circle cx="171.5" cy="394.0" r="1.85"/>
<circle cx="169.5" cy="431.1" r="1.85"/>
<circle cx="174.6" cy="417.7" r="1.85"/>
<circle cx="165.6" cy="404.1" r="1.85"/>
<circle cx="169.5" cy="404.2" r="1.85"/>
<circle cx="176.0" cy="412.6" r="1.85"/>
<circle cx="167.2" cy="386.5" r="1.85"/>
<circle cx="169.8" cy="429.2" r="1.85"/>
<circle cx="168.9" cy="388.8" r="1.85"/>
<circle cx="168.5" cy="414.9" r="1.85"/>
<circle cx="163.8" cy="402.8" r="1.85"/>
<circle cx="167.4" cy="432.2" r="1.85"/>
<circle cx="165.1" cy="415.1" r="1.85"/>
<circle cx="163.1" cy="422.2" r="1.85"/>
<circle cx="172.4" cy="396.8" r="1.85"/>
<circle cx="171.6" cy="423.5" r="1.85"/>
<circle cx="163.1" cy="420.3" r="1.85"/>
<circle cx="168.6" cy="391.1" r="1.85"/>
<circle cx="170.9" cy="417.2" r="1.85"/>
<circle cx="168.1" cy="420.9" r="1.85"/>
<circle cx="171.9" cy="402.1" r="1.85"/>
<circle cx="171.6" cy="437.9" r="1.85"/>
<circle cx="163.8" cy="412.2" r="1.85"/>
<circle cx="162.4" cy="384.8" r="1.85"/>
<circle cx="172.2" cy="422.1" r="1.85"/>
<circle cx="172.6" cy="405.5" r="1.85"/>
<circle cx="175.1" cy="424.3" r="1.85"/>
<circle cx="172.5" cy="418.2" r="1.85"/>
<circle cx="163.0" cy="426.1" r="1.85"/>
<circle cx="162.5" cy="402.0" r="1.85"/>
<circle cx="172.0" cy="441.8" r="1.85"/>
<circle cx="171.8" cy="409.4" r="1.85"/>
<circle cx="167.8" cy="387.5" r="1.85"/>
<circle cx="164.7" cy="408.2" r="1.85"/>
<circle cx="166.0" cy="425.3" r="1.85"/>
</g>
<g fill="#fff" stroke="#2a6eb2" stroke-width="0.95">
<circle cx="250.4" cy="397.4" r="1.85"/>
<circle cx="246.4" cy="407.5" r="1.85"/>
<circle cx="250.3" cy="362.7" r="1.85"/>
<circle cx="254.3" cy="405.6" r="1.85"/>
<circle cx="247.9" cy="359.4" r="1.85"/>
<circle cx="243.2" cy="400.1" r="1.85"/>
<circle cx="255.0" cy="367.6" r="1.85"/>
<circle cx="241.8" cy="421.9" r="1.85"/>
<circle cx="244.2" cy="399.9" r="1.85"/>
<circle cx="253.9" cy="370.8" r="1.85"/>
<circle cx="244.8" cy="385.5" r="1.85"/>
<circle cx="252.8" cy="366.3" r="1.85"/>
<circle cx="250.2" cy="399.2" r="1.85"/>
<circle cx="253.2" cy="394.0" r="1.85"/>
<circle cx="242.8" cy="390.7" r="1.85"/>
<circle cx="246.1" cy="402.6" r="1.85"/>
<circle cx="248.6" cy="408.2" r="1.85"/>
<circle cx="255.3" cy="391.8" r="1.85"/>
<circle cx="244.4" cy="382.4" r="1.85"/>
<circle cx="243.9" cy="412.0" r="1.85"/>
<circle cx="252.0" cy="394.8" r="1.85"/>
<circle cx="243.6" cy="424.3" r="1.85"/>
<circle cx="242.6" cy="391.0" r="1.85"/>
<circle cx="250.5" cy="379.0" r="1.85"/>
<circle cx="243.3" cy="386.3" r="1.85"/>
<circle cx="253.7" cy="384.2" r="1.85"/>
<circle cx="248.1" cy="385.4" r="1.85"/>
<circle cx="241.8" cy="380.4" r="1.85"/>
<circle cx="244.7" cy="400.4" r="1.85"/>
<circle cx="248.7" cy="377.8" r="1.85"/>
<circle cx="247.5" cy="403.3" r="1.85"/>
<circle cx="245.9" cy="405.4" r="1.85"/>
<circle cx="252.7" cy="378.9" r="1.85"/>
<circle cx="253.1" cy="386.7" r="1.85"/>
<circle cx="245.8" cy="409.3" r="1.85"/>
<circle cx="247.0" cy="340.6" r="1.85"/>
<circle cx="251.3" cy="400.8" r="1.85"/>
<circle cx="249.1" cy="388.5" r="1.85"/>
<circle cx="250.0" cy="398.4" r="1.85"/>
<circle cx="249.6" cy="426.9" r="1.85"/>
<circle cx="245.8" cy="410.9" r="1.85"/>
<circle cx="242.8" cy="397.1" r="1.85"/>
<circle cx="242.8" cy="396.0" r="1.85"/>
<circle cx="247.5" cy="414.3" r="1.85"/>
<circle cx="252.8" cy="427.9" r="1.85"/>
<circle cx="242.6" cy="358.8" r="1.85"/>
<circle cx="243.5" cy="406.6" r="1.85"/>
<circle cx="253.3" cy="403.5" r="1.85"/>
<circle cx="253.8" cy="383.2" r="1.85"/>
<circle cx="246.8" cy="421.3" r="1.85"/>
<circle cx="251.5" cy="413.6" r="1.85"/>
<circle cx="251.6" cy="364.5" r="1.85"/>
<circle cx="245.7" cy="392.9" r="1.85"/>
<circle cx="242.2" cy="425.0" r="1.85"/>
<circle cx="251.1" cy="410.8" r="1.85"/>
<circle cx="247.6" cy="362.2" r="1.85"/>
<circle cx="255.4" cy="398.7" r="1.85"/>
<circle cx="243.0" cy="354.2" r="1.85"/>
<circle cx="251.8" cy="413.2" r="1.85"/>
<circle cx="251.6" cy="396.3" r="1.85"/>
<circle cx="255.6" cy="408.1" r="1.85"/>
<circle cx="242.2" cy="362.3" r="1.85"/>
<circle cx="246.5" cy="374.9" r="1.85"/>
<circle cx="248.9" cy="383.6" r="1.85"/>
<circle cx="241.8" cy="412.2" r="1.85"/>
<circle cx="245.7" cy="389.2" r="1.85"/>
<circle cx="249.2" cy="361.8" r="1.85"/>
<circle cx="243.9" cy="367.6" r="1.85"/>
<circle cx="248.9" cy="399.6" r="1.85"/>
<circle cx="254.3" cy="405.4" r="1.85"/>
<circle cx="248.3" cy="417.9" r="1.85"/>
<circle cx="245.4" cy="381.4" r="1.85"/>
<circle cx="250.4" cy="366.7" r="1.85"/>
<circle cx="247.6" cy="423.1" r="1.85"/>
<circle cx="242.1" cy="362.1" r="1.85"/>
<circle cx="253.1" cy="408.6" r="1.85"/>
<circle cx="244.7" cy="418.2" r="1.85"/>
<circle cx="245.7" cy="421.8" r="1.85"/>
<circle cx="254.7" cy="379.8" r="1.85"/>
<circle cx="246.8" cy="391.3" r="1.85"/>
<circle cx="246.4" cy="365.3" r="1.85"/>
<circle cx="243.2" cy="391.2" r="1.85"/>
<circle cx="251.0" cy="353.2" r="1.85"/>
<circle cx="246.9" cy="395.5" r="1.85"/>
<circle cx="248.7" cy="359.9" r="1.85"/>
<circle cx="250.6" cy="407.8" r="1.85"/>
<circle cx="249.0" cy="419.6" r="1.85"/>
<circle cx="253.6" cy="400.7" r="1.85"/>
<circle cx="251.4" cy="381.1" r="1.85"/>
<circle cx="253.6" cy="399.7" r="1.85"/>
<circle cx="245.3" cy="385.2" r="1.85"/>
<circle cx="248.0" cy="350.2" r="1.85"/>
<circle cx="245.1" cy="406.6" r="1.85"/>
<circle cx="245.7" cy="405.2" r="1.85"/>
<circle cx="251.3" cy="363.2" r="1.85"/>
<circle cx="242.0" cy="377.5" r="1.85"/>
<circle cx="248.5" cy="411.7" r="1.85"/>
<circle cx="243.9" cy="396.8" r="1.85"/>
<circle cx="251.4" cy="382.0" r="1.85"/>
<circle cx="244.8" cy="402.8" r="1.85"/>
<circle cx="250.8" cy="398.3" r="1.85"/>
<circle cx="244.0" cy="423.1" r="1.85"/>
<circle cx="245.1" cy="383.8" r="1.85"/>
<circle cx="250.4" cy="400.8" r="1.85"/>
<circle cx="248.8" cy="376.9" r="1.85"/>
<circle cx="244.3" cy="387.6" r="1.85"/>
<circle cx="255.7" cy="381.6" r="1.85"/>
<circle cx="243.9" cy="390.1" r="1.85"/>
<circle cx="247.1" cy="367.1" r="1.85"/>
<circle cx="246.0" cy="432.9" r="1.85"/>
<circle cx="253.7" cy="384.7" r="1.85"/>
<circle cx="243.3" cy="399.4" r="1.85"/>
<circle cx="250.0" cy="403.1" r="1.85"/>
<circle cx="250.0" cy="383.6" r="1.85"/>
<circle cx="252.0" cy="431.2" r="1.85"/>
<circle cx="249.1" cy="389.0" r="1.85"/>
<circle cx="243.9" cy="389.7" r="1.85"/>
<circle cx="246.8" cy="376.7" r="1.85"/>
<circle cx="246.0" cy="410.2" r="1.85"/>
<circle cx="242.6" cy="376.8" r="1.85"/>
<circle cx="250.8" cy="378.3" r="1.85"/>
<circle cx="247.0" cy="395.1" r="1.85"/>
<circle cx="248.3" cy="392.1" r="1.85"/>
<circle cx="245.0" cy="391.1" r="1.85"/>
<circle cx="242.6" cy="417.0" r="1.85"/>
<circle cx="247.5" cy="386.6" r="1.85"/>
<circle cx="244.3" cy="387.0" r="1.85"/>
<circle cx="246.3" cy="387.6" r="1.85"/>
<circle cx="249.1" cy="396.8" r="1.85"/>
<circle cx="246.7" cy="420.0" r="1.85"/>
<circle cx="246.1" cy="388.0" r="1.85"/>
<circle cx="250.4" cy="394.8" r="1.85"/>
<circle cx="252.8" cy="389.9" r="1.85"/>
<circle cx="252.6" cy="374.1" r="1.85"/>
<circle cx="251.2" cy="421.9" r="1.85"/>
<circle cx="254.1" cy="428.0" r="1.85"/>
<circle cx="247.1" cy="394.9" r="1.85"/>
<circle cx="245.0" cy="422.8" r="1.85"/>
<circle cx="252.8" cy="381.7" r="1.85"/>
<circle cx="245.4" cy="423.4" r="1.85"/>
<circle cx="254.9" cy="386.4" r="1.85"/>
<circle cx="252.3" cy="374.8" r="1.85"/>
<circle cx="255.7" cy="424.7" r="1.85"/>
<circle cx="253.0" cy="386.8" r="1.85"/>
<circle cx="246.2" cy="373.3" r="1.85"/>
<circle cx="242.9" cy="372.7" r="1.85"/>
<circle cx="255.0" cy="373.7" r="1.85"/>
<circle cx="246.7" cy="424.1" r="1.85"/>
<circle cx="249.9" cy="358.7" r="1.85"/>
<circle cx="252.1" cy="361.1" r="1.85"/>
<circle cx="248.9" cy="395.4" r="1.85"/>
<circle cx="252.3" cy="373.0" r="1.85"/>
<circle cx="246.2" cy="370.3" r="1.85"/>
<circle cx="254.5" cy="423.4" r="1.85"/>
<circle cx="255.2" cy="403.8" r="1.85"/>
<circle cx="253.1" cy="399.1" r="1.85"/>
<circle cx="249.4" cy="391.5" r="1.85"/>
<circle cx="250.2" cy="398.4" r="1.85"/>
<circle cx="242.9" cy="402.6" r="1.85"/>
<circle cx="248.4" cy="358.1" r="1.85"/>
<circle cx="242.9" cy="405.6" r="1.85"/>
<circle cx="250.4" cy="378.9" r="1.85"/>
<circle cx="253.1" cy="398.8" r="1.85"/>
<circle cx="252.9" cy="380.2" r="1.85"/>
<circle cx="251.0" cy="376.2" r="1.85"/>
<circle cx="254.3" cy="405.3" r="1.85"/>
<circle cx="248.7" cy="412.2" r="1.85"/>
<circle cx="249.3" cy="417.9" r="1.85"/>
<circle cx="251.1" cy="363.2" r="1.85"/>
<circle cx="244.1" cy="376.9" r="1.85"/>
<circle cx="248.9" cy="393.6" r="1.85"/>
<circle cx="250.9" cy="404.1" r="1.85"/>
<circle cx="243.0" cy="400.3" r="1.85"/>
<circle cx="246.5" cy="398.9" r="1.85"/>
<circle cx="253.7" cy="428.0" r="1.85"/>
<circle cx="243.2" cy="406.6" r="1.85"/>
<circle cx="252.8" cy="386.7" r="1.85"/>
<circle cx="245.0" cy="348.8" r="1.85"/>
<circle cx="250.6" cy="375.1" r="1.85"/>
<circle cx="255.7" cy="360.2" r="1.85"/>
<circle cx="254.6" cy="382.8" r="1.85"/>
<circle cx="244.2" cy="420.2" r="1.85"/>
<circle cx="252.5" cy="411.7" r="1.85"/>
<circle cx="249.7" cy="376.5" r="1.85"/>
<circle cx="248.0" cy="404.4" r="1.85"/>
<circle cx="252.3" cy="391.6" r="1.85"/>
<circle cx="242.6" cy="396.5" r="1.85"/>
<circle cx="247.1" cy="415.9" r="1.85"/>
<circle cx="246.1" cy="378.9" r="1.85"/>
<circle cx="250.3" cy="414.4" r="1.85"/>
<circle cx="245.3" cy="392.9" r="1.85"/>
<circle cx="252.0" cy="418.2" r="1.85"/>
<circle cx="244.1" cy="384.2" r="1.85"/>
<circle cx="246.3" cy="382.6" r="1.85"/>
<circle cx="244.9" cy="413.7" r="1.85"/>
<circle cx="241.7" cy="421.4" r="1.85"/>
<circle cx="254.5" cy="390.9" r="1.85"/>
<circle cx="255.1" cy="358.8" r="1.85"/>
<circle cx="248.6" cy="390.8" r="1.85"/>
<circle cx="246.7" cy="379.9" r="1.85"/>
<circle cx="250.8" cy="396.0" r="1.85"/>
<circle cx="252.6" cy="407.2" r="1.85"/>
<circle cx="253.6" cy="399.5" r="1.85"/>
<circle cx="247.3" cy="425.0" r="1.85"/>
<circle cx="252.6" cy="420.0" r="1.85"/>
<circle cx="245.5" cy="380.6" r="1.85"/>
<circle cx="250.1" cy="395.5" r="1.85"/>
<circle cx="244.6" cy="412.1" r="1.85"/>
<circle cx="255.4" cy="380.9" r="1.85"/>
<circle cx="248.9" cy="400.2" r="1.85"/>
<circle cx="255.3" cy="392.8" r="1.85"/>
<circle cx="247.7" cy="393.1" r="1.85"/>
<circle cx="246.6" cy="398.0" r="1.85"/>
<circle cx="249.3" cy="379.8" r="1.85"/>
<circle cx="248.8" cy="387.7" r="1.85"/>
<circle cx="250.6" cy="388.9" r="1.85"/>
<circle cx="244.0" cy="361.3" r="1.85"/>
</g>
<g fill="#fff" stroke="#48322a" stroke-width="0.95">
<circle cx="284.9" cy="417.9" r="1.85"/>
<circle cx="295.8" cy="402.9" r="1.85"/>
<circle cx="293.9" cy="408.2" r="1.85"/>
<circle cx="289.1" cy="407.6" r="1.85"/>
<circle cx="286.2" cy="419.9" r="1.85"/>
<circle cx="292.9" cy="428.2" r="1.85"/>
<circle cx="293.5" cy="433.6" r="1.85"/>
<circle cx="298.0" cy="416.3" r="1.85"/>
<circle cx="290.8" cy="408.5" r="1.85"/>
<circle cx="284.5" cy="414.2" r="1.85"/>
<circle cx="288.7" cy="399.2" r="1.85"/>
<circle cx="286.3" cy="414.2" r="1.85"/>
<circle cx="292.6" cy="405.2" r="1.85"/>
<circle cx="291.4" cy="427.2" r="1.85"/>
<circle cx="284.6" cy="402.6" r="1.85"/>
<circle cx="286.6" cy="424.7" r="1.85"/>
<circle cx="285.9" cy="425.9" r="1.85"/>
<circle cx="296.9" cy="418.4" r="1.85"/>
<circle cx="294.9" cy="431.3" r="1.85"/>
<circle cx="292.3" cy="398.3" r="1.85"/>
<circle cx="285.5" cy="422.2" r="1.85"/>
<circle cx="293.5" cy="401.3" r="1.85"/>
<circle cx="290.8" cy="403.9" r="1.85"/>
<circle cx="284.4" cy="442.8" r="1.85"/>
<circle cx="291.7" cy="415.5" r="1.85"/>
<circle cx="289.8" cy="389.9" r="1.85"/>
<circle cx="296.4" cy="394.1" r="1.85"/>
<circle cx="284.4" cy="394.3" r="1.85"/>
<circle cx="292.0" cy="368.8" r="1.85"/>
<circle cx="295.1" cy="415.1" r="1.85"/>
<circle cx="297.3" cy="390.5" r="1.85"/>
<circle cx="295.1" cy="380.5" r="1.85"/>
<circle cx="289.4" cy="417.6" r="1.85"/>
<circle cx="285.1" cy="441.7" r="1.85"/>
<circle cx="298.5" cy="420.4" r="1.85"/>
<circle cx="285.2" cy="383.8" r="1.85"/>
<circle cx="285.0" cy="380.9" r="1.85"/>
<circle cx="295.2" cy="398.6" r="1.85"/>
<circle cx="294.2" cy="437.5" r="1.85"/>
<circle cx="298.6" cy="414.7" r="1.85"/>
<circle cx="293.7" cy="416.5" r="1.85"/>
<circle cx="296.8" cy="390.1" r="1.85"/>
<circle cx="288.0" cy="407.4" r="1.85"/>
<circle cx="288.2" cy="399.5" r="1.85"/>
<circle cx="286.1" cy="425.0" r="1.85"/>
<circle cx="294.4" cy="416.5" r="1.85"/>
<circle cx="295.7" cy="440.3" r="1.85"/>
<circle cx="298.6" cy="410.3" r="1.85"/>
<circle cx="284.9" cy="394.3" r="1.85"/>
<circle cx="289.7" cy="400.8" r="1.85"/>
<circle cx="293.4" cy="407.5" r="1.85"/>
<circle cx="298.5" cy="413.8" r="1.85"/>
<circle cx="290.3" cy="411.0" r="1.85"/>
<circle cx="285.3" cy="411.4" r="1.85"/>
<circle cx="284.6" cy="432.7" r="1.85"/>
<circle cx="286.3" cy="398.0" r="1.85"/>
<circle cx="292.3" cy="429.5" r="1.85"/>
<circle cx="286.8" cy="394.8" r="1.85"/>
<circle cx="298.3" cy="411.9" r="1.85"/>
<circle cx="298.2" cy="398.0" r="1.85"/>
<circle cx="286.8" cy="410.8" r="1.85"/>
<circle cx="292.7" cy="423.9" r="1.85"/>
<circle cx="284.7" cy="415.6" r="1.85"/>
<circle cx="293.2" cy="401.9" r="1.85"/>
<circle cx="295.8" cy="386.4" r="1.85"/>
<circle cx="296.7" cy="438.4" r="1.85"/>
<circle cx="290.7" cy="397.0" r="1.85"/>
<circle cx="297.7" cy="440.6" r="1.85"/>
<circle cx="293.2" cy="440.5" r="1.85"/>
<circle cx="292.6" cy="415.8" r="1.85"/>
<circle cx="293.6" cy="430.9" r="1.85"/>
<circle cx="295.3" cy="411.1" r="1.85"/>
<circle cx="296.5" cy="407.3" r="1.85"/>
<circle cx="290.3" cy="425.5" r="1.85"/>
<circle cx="289.9" cy="426.5" r="1.85"/>
<circle cx="286.6" cy="387.6" r="1.85"/>
<circle cx="292.5" cy="429.3" r="1.85"/>
<circle cx="289.2" cy="435.3" r="1.85"/>
<circle cx="298.3" cy="428.9" r="1.85"/>
<circle cx="294.7" cy="438.5" r="1.85"/>
<circle cx="287.5" cy="416.0" r="1.85"/>
<circle cx="291.6" cy="409.6" r="1.85"/>
<circle cx="285.6" cy="389.3" r="1.85"/>
<circle cx="293.4" cy="411.5" r="1.85"/>
<circle cx="294.9" cy="397.8" r="1.85"/>
<circle cx="296.0" cy="436.8" r="1.85"/>
<circle cx="297.1" cy="409.9" r="1.85"/>
<circle cx="297.5" cy="439.6" r="1.85"/>
<circle cx="289.9" cy="413.8" r="1.85"/>
<circle cx="297.0" cy="433.7" r="1.85"/>
<circle cx="286.9" cy="416.5" r="1.85"/>
<circle cx="286.4" cy="437.3" r="1.85"/>
<circle cx="291.9" cy="430.2" r="1.85"/>
<circle cx="293.5" cy="353.2" r="1.85"/>
<circle cx="289.8" cy="435.1" r="1.85"/>
<circle cx="285.5" cy="389.4" r="1.85"/>
<circle cx="294.4" cy="415.6" r="1.85"/>
<circle cx="293.9" cy="408.9" r="1.85"/>
<circle cx="287.7" cy="427.3" r="1.85"/>
<circle cx="291.7" cy="402.5" r="1.85"/>
<circle cx="294.5" cy="412.6" r="1.85"/>
<circle cx="288.1" cy="420.3" r="1.85"/>
<circle cx="296.9" cy="425.5" r="1.85"/>
<circle cx="298.3" cy="415.1" r="1.85"/>
<circle cx="297.5" cy="432.7" r="1.85"/>
<circle cx="297.9" cy="430.7" r="1.85"/>
<circle cx="286.0" cy="402.1" r="1.85"/>
<circle cx="285.2" cy="387.8" r="1.85"/>
<circle cx="292.3" cy="398.2" r="1.85"/>
<circle cx="291.5" cy="391.3" r="1.85"/>
<circle cx="293.0" cy="428.0" r="1.85"/>
<circle cx="288.1" cy="420.4" r="1.85"/>
<circle cx="286.4" cy="428.1" r="1.85"/>
<circle cx="289.7" cy="410.7" r="1.85"/>
<circle cx="289.1" cy="436.6" r="1.85"/>
<circle cx="293.8" cy="419.2" r="1.85"/>
<circle cx="298.4" cy="401.8" r="1.85"/>
<circle cx="288.0" cy="368.8" r="1.85"/>
<circle cx="296.0" cy="418.2" r="1.85"/>
<circle cx="293.9" cy="385.5" r="1.85"/>
<circle cx="289.6" cy="441.3" r="1.85"/>
<circle cx="288.3" cy="417.3" r="1.85"/>
<circle cx="291.5" cy="406.2" r="1.85"/>
<circle cx="296.4" cy="420.7" r="1.85"/>
<circle cx="292.1" cy="426.0" r="1.85"/>
<circle cx="287.9" cy="419.3" r="1.85"/>
<circle cx="296.0" cy="379.2" r="1.85"/>
<circle cx="290.8" cy="402.7" r="1.85"/>
<circle cx="294.0" cy="418.4" r="1.85"/>
<circle cx="291.3" cy="396.7" r="1.85"/>
<circle cx="297.7" cy="388.3" r="1.85"/>
<circle cx="288.0" cy="414.2" r="1.85"/>
<circle cx="287.6" cy="427.4" r="1.85"/>
<circle cx="289.9" cy="399.8" r="1.85"/>
<circle cx="290.3" cy="429.8" r="1.85"/>
<circle cx="295.0" cy="412.5" r="1.85"/>
<circle cx="297.2" cy="415.4" r="1.85"/>
<circle cx="286.6" cy="401.5" r="1.85"/>
<circle cx="287.9" cy="391.7" r="1.85"/>
<circle cx="291.7" cy="435.7" r="1.85"/>
<circle cx="296.4" cy="414.8" r="1.85"/>
<circle cx="285.6" cy="420.7" r="1.85"/>
<circle cx="287.8" cy="399.0" r="1.85"/>
<circle cx="297.4" cy="409.3" r="1.85"/>
<circle cx="296.5" cy="430.7" r="1.85"/>
<circle cx="287.9" cy="425.4" r="1.85"/>
<circle cx="288.3" cy="440.0" r="1.85"/>
<circle cx="296.0" cy="412.6" r="1.85"/>
<circle cx="297.6" cy="408.7" r="1.85"/>
<circle cx="295.0" cy="420.5" r="1.85"/>
<circle cx="288.8" cy="412.7" r="1.85"/>
<circle cx="285.3" cy="381.7" r="1.85"/>
<circle cx="290.9" cy="441.8" r="1.85"/>
<circle cx="287.8" cy="427.1" r="1.85"/>
<circle cx="297.4" cy="405.8" r="1.85"/>
<circle cx="290.7" cy="433.1" r="1.85"/>
<circle cx="293.3" cy="392.5" r="1.85"/>
<circle cx="291.9" cy="392.0" r="1.85"/>
<circle cx="288.0" cy="379.2" r="1.85"/>
<circle cx="290.3" cy="435.7" r="1.85"/>
<circle cx="297.6" cy="386.3" r="1.85"/>
<circle cx="285.1" cy="417.2" r="1.85"/>
<circle cx="289.7" cy="388.0" r="1.85"/>
<circle cx="298.2" cy="431.7" r="1.85"/>
<circle cx="291.3" cy="411.3" r="1.85"/>
<circle cx="286.0" cy="376.2" r="1.85"/>
<circle cx="295.4" cy="399.1" r="1.85"/>
<circle cx="287.0" cy="434.9" r="1.85"/>
<circle cx="298.4" cy="433.9" r="1.85"/>
<circle cx="287.1" cy="426.9" r="1.85"/>
<circle cx="288.9" cy="428.8" r="1.85"/>
<circle cx="287.5" cy="431.0" r="1.85"/>
<circle cx="285.5" cy="415.1" r="1.85"/>
<circle cx="292.0" cy="442.1" r="1.85"/>
<circle cx="285.5" cy="438.0" r="1.85"/>
<circle cx="287.1" cy="426.0" r="1.85"/>
<circle cx="287.2" cy="425.0" r="1.85"/>
<circle cx="287.3" cy="397.4" r="1.85"/>
<circle cx="295.8" cy="381.2" r="1.85"/>
<circle cx="296.6" cy="394.3" r="1.85"/>
<circle cx="298.5" cy="381.1" r="1.85"/>
<circle cx="293.7" cy="419.1" r="1.85"/>
<circle cx="286.9" cy="403.7" r="1.85"/>
<circle cx="289.0" cy="434.1" r="1.85"/>
<circle cx="293.9" cy="427.7" r="1.85"/>
<circle cx="286.2" cy="425.9" r="1.85"/>
<circle cx="288.7" cy="387.3" r="1.85"/>
<circle cx="289.4" cy="392.4" r="1.85"/>
<circle cx="285.7" cy="386.5" r="1.85"/>
<circle cx="293.6" cy="434.5" r="1.85"/>
<circle cx="291.7" cy="404.4" r="1.85"/>
<circle cx="297.3" cy="393.8" r="1.85"/>
<circle cx="286.2" cy="437.8" r="1.85"/>
<circle cx="287.0" cy="401.8" r="1.85"/>
<circle cx="289.2" cy="386.3" r="1.85"/>
<circle cx="285.4" cy="432.2" r="1.85"/>
<circle cx="294.1" cy="410.6" r="1.85"/>
<circle cx="293.8" cy="419.3" r="1.85"/>
<circle cx="297.1" cy="413.2" r="1.85"/>
<circle cx="289.8" cy="436.1" r="1.85"/>
<circle cx="295.9" cy="424.7" r="1.85"/>
<circle cx="292.9" cy="398.7" r="1.85"/>
<circle cx="293.2" cy="430.2" r="1.85"/>
<circle cx="296.1" cy="438.4" r="1.85"/>
<circle cx="286.6" cy="424.9" r="1.85"/>
<circle cx="298.4" cy="423.0" r="1.85"/>
<circle cx="292.4" cy="392.1" r="1.85"/>
<circle cx="292.7" cy="411.0" r="1.85"/>
<circle cx="295.6" cy="422.5" r="1.85"/>
<circle cx="295.3" cy="388.6" r="1.85"/>
<circle cx="291.6" cy="402.7" r="1.85"/>
<circle cx="291.4" cy="432.4" r="1.85"/>
<circle cx="289.1" cy="404.4" r="1.85"/>
<circle cx="298.0" cy="400.9" r="1.85"/>
<circle cx="296.1" cy="422.8" r="1.85"/>
<circle cx="293.6" cy="384.4" r="1.85"/>
<circle cx="288.4" cy="390.8" r="1.85"/>
<circle cx="286.3" cy="422.8" r="1.85"/>
<circle cx="293.4" cy="429.2" r="1.85"/>
</g>
<path d="M120.6 381.1H131.0M120.6 413.6H131.0M125.8 381.1V413.6" stroke="#1c1c1c" stroke-width="1.3" fill="none"/>
<path d="M164.2 397.4H174.6M164.2 426.4H174.6M169.4 397.4V426.4" stroke="#1c1c1c" stroke-width="1.3" fill="none"/>
<path d="M243.1 373.1H253.5M243.1 411.6H253.5M248.3 373.1V411.6" stroke="#1c1c1c" stroke-width="1.3" fill="none"/>
<path d="M286.8 399.4H297.2M286.8 430.2H297.2M292.0 399.4V430.2" stroke="#1c1c1c" stroke-width="1.3" fill="none"/>
<path d="M84.0 291.1H79.7V446.9H339.9M79.7 369.0H84.0" stroke="#1a1a1a" stroke-width="1.4" fill="none" stroke-linejoin="miter"/>
<text x="72.6" y="294.3" text-anchor="end" fill="#222">50</text>
<text x="72.6" y="372.4" text-anchor="end" fill="#222">25</text>
<text x="72.6" y="450.8" text-anchor="end" fill="#222">0</text>
<text transform="translate(44.0 369.4) rotate(-90)" text-anchor="middle" fill="#222">Correct decoding (% words)</text>
<text x="204.7" y="277.0" text-anchor="middle" fill="#666">2 units</text>
<text x="150.4" y="471.1" text-anchor="middle" fill="#222">Single-units</text>
<text x="268.9" y="471.1" text-anchor="middle" fill="#222">Multi-units</text>
<rect x="450.7" y="387.0" width="43.1" height="59.9" fill="#bfe1f4" stroke="#86c6e6" stroke-width="1"/>
<rect x="494.2" y="412.6" width="42.5" height="34.3" fill="#dcdcdc" stroke="#b4b4b4" stroke-width="1"/>
<rect x="576.6" y="368.3" width="43.3" height="78.6" fill="#bfe1f4" stroke="#86c6e6" stroke-width="1"/>
<rect x="620.3" y="411.8" width="42.1" height="35.2" fill="#dcdcdc" stroke="#b4b4b4" stroke-width="1"/>
<g fill="#fff" stroke="#2a6eb2" stroke-width="0.95">
<circle cx="477.2" cy="398.6" r="1.85"/>
<circle cx="474.7" cy="376.8" r="1.85"/>
<circle cx="472.5" cy="364.1" r="1.85"/>
<circle cx="469.8" cy="377.9" r="1.85"/>
<circle cx="469.2" cy="369.6" r="1.85"/>
<circle cx="478.0" cy="348.2" r="1.85"/>
<circle cx="478.8" cy="423.4" r="1.85"/>
<circle cx="466.0" cy="407.7" r="1.85"/>
<circle cx="468.3" cy="410.8" r="1.85"/>
<circle cx="478.1" cy="392.7" r="1.85"/>
<circle cx="477.9" cy="367.5" r="1.85"/>
<circle cx="468.8" cy="366.5" r="1.85"/>
<circle cx="474.5" cy="364.2" r="1.85"/>
<circle cx="468.1" cy="397.0" r="1.85"/>
<circle cx="465.4" cy="382.5" r="1.85"/>
<circle cx="474.9" cy="409.1" r="1.85"/>
<circle cx="472.1" cy="375.7" r="1.85"/>
<circle cx="471.1" cy="379.3" r="1.85"/>
<circle cx="469.6" cy="368.1" r="1.85"/>
<circle cx="472.0" cy="366.2" r="1.85"/>
<circle cx="469.2" cy="391.3" r="1.85"/>
<circle cx="477.2" cy="410.8" r="1.85"/>
<circle cx="467.0" cy="359.1" r="1.85"/>
<circle cx="472.0" cy="391.9" r="1.85"/>
<circle cx="471.5" cy="387.0" r="1.85"/>
<circle cx="468.5" cy="390.4" r="1.85"/>
<circle cx="478.2" cy="413.0" r="1.85"/>
<circle cx="473.8" cy="376.2" r="1.85"/>
<circle cx="469.6" cy="404.3" r="1.85"/>
<circle cx="475.7" cy="363.8" r="1.85"/>
<circle cx="467.8" cy="380.5" r="1.85"/>
<circle cx="478.2" cy="386.6" r="1.85"/>
<circle cx="469.0" cy="377.2" r="1.85"/>
<circle cx="472.1" cy="367.6" r="1.85"/>
<circle cx="465.8" cy="422.3" r="1.85"/>
<circle cx="471.5" cy="375.7" r="1.85"/>
<circle cx="471.7" cy="413.1" r="1.85"/>
<circle cx="468.4" cy="371.7" r="1.85"/>
<circle cx="472.3" cy="370.3" r="1.85"/>
<circle cx="469.8" cy="379.9" r="1.85"/>
<circle cx="478.8" cy="387.2" r="1.85"/>
<circle cx="470.2" cy="378.2" r="1.85"/>
<circle cx="473.9" cy="389.9" r="1.85"/>
<circle cx="471.2" cy="402.3" r="1.85"/>
<circle cx="477.6" cy="389.2" r="1.85"/>
<circle cx="465.0" cy="361.4" r="1.85"/>
<circle cx="477.7" cy="364.0" r="1.85"/>
<circle cx="472.2" cy="392.7" r="1.85"/>
<circle cx="467.9" cy="381.8" r="1.85"/>
<circle cx="477.1" cy="410.2" r="1.85"/>
<circle cx="477.5" cy="383.6" r="1.85"/>
<circle cx="468.3" cy="406.8" r="1.85"/>
<circle cx="466.5" cy="373.5" r="1.85"/>
<circle cx="473.9" cy="386.7" r="1.85"/>
<circle cx="471.0" cy="379.2" r="1.85"/>
<circle cx="475.0" cy="389.0" r="1.85"/>
<circle cx="472.2" cy="363.8" r="1.85"/>
<circle cx="468.1" cy="368.1" r="1.85"/>
<circle cx="470.4" cy="390.8" r="1.85"/>
<circle cx="478.2" cy="390.4" r="1.85"/>
<circle cx="470.8" cy="371.4" r="1.85"/>
<circle cx="470.3" cy="380.1" r="1.85"/>
<circle cx="471.4" cy="386.6" r="1.85"/>
<circle cx="467.3" cy="367.8" r="1.85"/>
<circle cx="469.2" cy="383.5" r="1.85"/>
<circle cx="465.6" cy="365.9" r="1.85"/>
<circle cx="478.5" cy="387.2" r="1.85"/>
<circle cx="475.1" cy="389.2" r="1.85"/>
<circle cx="469.7" cy="417.3" r="1.85"/>
<circle cx="475.7" cy="379.7" r="1.85"/>
<circle cx="472.8" cy="363.5" r="1.85"/>
<circle cx="472.3" cy="397.4" r="1.85"/>
<circle cx="471.7" cy="376.3" r="1.85"/>
<circle cx="470.5" cy="364.2" r="1.85"/>
<circle cx="476.0" cy="398.5" r="1.85"/>
<circle cx="468.3" cy="380.0" r="1.85"/>
<circle cx="467.9" cy="386.7" r="1.85"/>
<circle cx="474.3" cy="401.4" r="1.85"/>
<circle cx="469.2" cy="366.0" r="1.85"/>
<circle cx="473.6" cy="396.4" r="1.85"/>
<circle cx="469.7" cy="386.6" r="1.85"/>
<circle cx="475.0" cy="386.9" r="1.85"/>
<circle cx="478.5" cy="400.5" r="1.85"/>
<circle cx="467.0" cy="397.4" r="1.85"/>
<circle cx="467.2" cy="377.2" r="1.85"/>
<circle cx="468.9" cy="378.0" r="1.85"/>
<circle cx="468.0" cy="355.2" r="1.85"/>
<circle cx="476.4" cy="368.4" r="1.85"/>
<circle cx="475.2" cy="363.2" r="1.85"/>
<circle cx="471.6" cy="360.3" r="1.85"/>
<circle cx="472.0" cy="395.8" r="1.85"/>
<circle cx="478.4" cy="379.8" r="1.85"/>
<circle cx="467.5" cy="386.1" r="1.85"/>
<circle cx="466.0" cy="386.8" r="1.85"/>
<circle cx="474.2" cy="407.8" r="1.85"/>
<circle cx="471.1" cy="406.9" r="1.85"/>
<circle cx="468.8" cy="390.4" r="1.85"/>
<circle cx="468.6" cy="378.8" r="1.85"/>
<circle cx="471.2" cy="379.0" r="1.85"/>
<circle cx="466.9" cy="365.2" r="1.85"/>
<circle cx="465.7" cy="366.0" r="1.85"/>
<circle cx="477.0" cy="345.2" r="1.85"/>
<circle cx="465.2" cy="404.5" r="1.85"/>
<circle cx="473.9" cy="392.7" r="1.85"/>
<circle cx="465.7" cy="374.5" r="1.85"/>
<circle cx="467.0" cy="428.9" r="1.85"/>
<circle cx="468.6" cy="367.5" r="1.85"/>
<circle cx="468.3" cy="394.0" r="1.85"/>
<circle cx="465.8" cy="413.4" r="1.85"/>
<circle cx="473.1" cy="359.6" r="1.85"/>
<circle cx="473.3" cy="385.5" r="1.85"/>
<circle cx="466.9" cy="390.3" r="1.85"/>
<circle cx="470.1" cy="365.1" r="1.85"/>
<circle cx="472.1" cy="390.1" r="1.85"/>
<circle cx="471.6" cy="407.1" r="1.85"/>
<circle cx="471.2" cy="422.7" r="1.85"/>
<circle cx="468.7" cy="367.9" r="1.85"/>
<circle cx="469.5" cy="403.6" r="1.85"/>
<circle cx="474.5" cy="371.8" r="1.85"/>
<circle cx="471.7" cy="359.3" r="1.85"/>
<circle cx="465.6" cy="369.0" r="1.85"/>
<circle cx="469.0" cy="392.4" r="1.85"/>
<circle cx="473.6" cy="362.1" r="1.85"/>
<circle cx="473.1" cy="390.5" r="1.85"/>
<circle cx="468.3" cy="416.9" r="1.85"/>
<circle cx="466.3" cy="423.5" r="1.85"/>
<circle cx="465.0" cy="353.2" r="1.85"/>
<circle cx="471.2" cy="377.2" r="1.85"/>
<circle cx="478.7" cy="423.7" r="1.85"/>
<circle cx="474.7" cy="358.7" r="1.85"/>
<circle cx="475.9" cy="370.9" r="1.85"/>
<circle cx="476.6" cy="380.4" r="1.85"/>
<circle cx="470.0" cy="407.4" r="1.85"/>
<circle cx="470.4" cy="395.7" r="1.85"/>
<circle cx="465.0" cy="339.9" r="1.85"/>
<circle cx="476.3" cy="403.2" r="1.85"/>
<circle cx="473.0" cy="372.5" r="1.85"/>
<circle cx="469.3" cy="416.5" r="1.85"/>
<circle cx="477.9" cy="380.3" r="1.85"/>
<circle cx="475.0" cy="404.4" r="1.85"/>
<circle cx="467.8" cy="409.1" r="1.85"/>
<circle cx="475.9" cy="400.8" r="1.85"/>
<circle cx="473.2" cy="375.7" r="1.85"/>
<circle cx="475.0" cy="366.6" r="1.85"/>
<circle cx="475.8" cy="370.2" r="1.85"/>
<circle cx="471.9" cy="389.0" r="1.85"/>
<circle cx="470.3" cy="387.4" r="1.85"/>
<circle cx="471.8" cy="422.6" r="1.85"/>
<circle cx="474.4" cy="382.9" r="1.85"/>
<circle cx="468.1" cy="370.4" r="1.85"/>
<circle cx="467.2" cy="373.2" r="1.85"/>
<circle cx="469.1" cy="377.8" r="1.85"/>
<circle cx="474.7" cy="392.4" r="1.85"/>
<circle cx="478.1" cy="365.6" r="1.85"/>
<circle cx="470.9" cy="382.8" r="1.85"/>
<circle cx="478.1" cy="405.7" r="1.85"/>
<circle cx="466.9" cy="369.8" r="1.85"/>
<circle cx="470.3" cy="359.1" r="1.85"/>
<circle cx="470.7" cy="380.2" r="1.85"/>
<circle cx="468.7" cy="376.9" r="1.85"/>
<circle cx="465.1" cy="364.7" r="1.85"/>
<circle cx="478.9" cy="393.2" r="1.85"/>
<circle cx="465.6" cy="394.7" r="1.85"/>
<circle cx="468.8" cy="411.5" r="1.85"/>
<circle cx="474.0" cy="378.8" r="1.85"/>
<circle cx="477.9" cy="359.5" r="1.85"/>
<circle cx="479.1" cy="370.4" r="1.85"/>
<circle cx="470.7" cy="412.2" r="1.85"/>
<circle cx="473.6" cy="397.8" r="1.85"/>
<circle cx="467.5" cy="361.0" r="1.85"/>
<circle cx="477.1" cy="379.5" r="1.85"/>
<circle cx="478.0" cy="357.5" r="1.85"/>
<circle cx="476.0" cy="387.9" r="1.85"/>
<circle cx="467.1" cy="400.6" r="1.85"/>
<circle cx="473.9" cy="407.2" r="1.85"/>
<circle cx="468.3" cy="373.4" r="1.85"/>
<circle cx="474.8" cy="396.2" r="1.85"/>
<circle cx="477.4" cy="387.2" r="1.85"/>
<circle cx="470.3" cy="371.1" r="1.85"/>
<circle cx="469.6" cy="363.2" r="1.85"/>
<circle cx="478.7" cy="398.5" r="1.85"/>
<circle cx="476.2" cy="381.1" r="1.85"/>
<circle cx="469.1" cy="376.2" r="1.85"/>
<circle cx="478.3" cy="390.3" r="1.85"/>
<circle cx="464.9" cy="381.9" r="1.85"/>
<circle cx="476.0" cy="403.7" r="1.85"/>
<circle cx="477.0" cy="379.3" r="1.85"/>
<circle cx="469.9" cy="421.6" r="1.85"/>
<circle cx="465.2" cy="384.4" r="1.85"/>
<circle cx="471.4" cy="413.8" r="1.85"/>
<circle cx="476.3" cy="377.3" r="1.85"/>
<circle cx="478.5" cy="362.1" r="1.85"/>
<circle cx="476.7" cy="406.6" r="1.85"/>
<circle cx="470.6" cy="370.7" r="1.85"/>
<circle cx="477.0" cy="365.1" r="1.85"/>
<circle cx="466.7" cy="402.1" r="1.85"/>
<circle cx="478.5" cy="396.7" r="1.85"/>
<circle cx="476.9" cy="404.5" r="1.85"/>
</g>
<g fill="#fff" stroke="#48322a" stroke-width="0.95">
<circle cx="520.9" cy="407.0" r="1.85"/>
<circle cx="518.0" cy="435.5" r="1.85"/>
<circle cx="517.6" cy="431.4" r="1.85"/>
<circle cx="516.1" cy="410.4" r="1.85"/>
<circle cx="518.7" cy="434.4" r="1.85"/>
<circle cx="516.8" cy="427.6" r="1.85"/>
<circle cx="509.8" cy="425.5" r="1.85"/>
<circle cx="516.6" cy="436.2" r="1.85"/>
<circle cx="510.8" cy="379.4" r="1.85"/>
<circle cx="508.7" cy="433.4" r="1.85"/>
<circle cx="514.5" cy="394.8" r="1.85"/>
<circle cx="512.7" cy="383.7" r="1.85"/>
<circle cx="520.4" cy="428.2" r="1.85"/>
<circle cx="518.0" cy="413.8" r="1.85"/>
<circle cx="513.6" cy="441.5" r="1.85"/>
<circle cx="518.4" cy="374.1" r="1.85"/>
<circle cx="508.5" cy="436.9" r="1.85"/>
<circle cx="510.1" cy="409.5" r="1.85"/>
<circle cx="520.6" cy="431.3" r="1.85"/>
<circle cx="517.3" cy="404.1" r="1.85"/>
<circle cx="515.4" cy="395.9" r="1.85"/>
<circle cx="518.5" cy="421.9" r="1.85"/>
<circle cx="514.7" cy="416.7" r="1.85"/>
<circle cx="511.7" cy="410.2" r="1.85"/>
<circle cx="513.7" cy="396.0" r="1.85"/>
<circle cx="521.0" cy="414.5" r="1.85"/>
<circle cx="518.9" cy="438.3" r="1.85"/>
<circle cx="514.0" cy="363.1" r="1.85"/>
<circle cx="512.7" cy="398.3" r="1.85"/>
<circle cx="521.1" cy="403.5" r="1.85"/>
<circle cx="519.8" cy="381.1" r="1.85"/>
<circle cx="509.2" cy="377.2" r="1.85"/>
<circle cx="508.7" cy="432.2" r="1.85"/>
<circle cx="509.6" cy="404.9" r="1.85"/>
<circle cx="510.4" cy="387.1" r="1.85"/>
<circle cx="521.3" cy="439.9" r="1.85"/>
<circle cx="515.0" cy="421.5" r="1.85"/>
<circle cx="520.8" cy="391.2" r="1.85"/>
<circle cx="512.3" cy="416.7" r="1.85"/>
<circle cx="517.5" cy="417.2" r="1.85"/>
<circle cx="514.9" cy="410.5" r="1.85"/>
<circle cx="518.1" cy="392.3" r="1.85"/>
<circle cx="511.6" cy="417.8" r="1.85"/>
<circle cx="520.9" cy="405.0" r="1.85"/>
<circle cx="513.9" cy="390.5" r="1.85"/>
<circle cx="510.4" cy="415.4" r="1.85"/>
<circle cx="519.9" cy="390.3" r="1.85"/>
<circle cx="521.4" cy="401.7" r="1.85"/>
<circle cx="513.6" cy="389.7" r="1.85"/>
<circle cx="508.8" cy="396.3" r="1.85"/>
<circle cx="520.5" cy="426.0" r="1.85"/>
<circle cx="511.0" cy="414.7" r="1.85"/>
<circle cx="514.9" cy="430.4" r="1.85"/>
<circle cx="521.0" cy="358.9" r="1.85"/>
<circle cx="513.7" cy="441.7" r="1.85"/>
<circle cx="511.1" cy="428.4" r="1.85"/>
<circle cx="510.6" cy="419.1" r="1.85"/>
<circle cx="515.0" cy="369.2" r="1.85"/>
<circle cx="510.5" cy="412.9" r="1.85"/>
<circle cx="514.0" cy="378.3" r="1.85"/>
<circle cx="515.9" cy="395.5" r="1.85"/>
<circle cx="517.4" cy="441.9" r="1.85"/>
<circle cx="512.2" cy="401.1" r="1.85"/>
<circle cx="520.0" cy="438.2" r="1.85"/>
<circle cx="518.0" cy="412.1" r="1.85"/>
<circle cx="513.3" cy="417.8" r="1.85"/>
<circle cx="509.3" cy="406.6" r="1.85"/>
<circle cx="517.0" cy="389.5" r="1.85"/>
<circle cx="517.9" cy="398.8" r="1.85"/>
<circle cx="514.8" cy="413.1" r="1.85"/>
<circle cx="519.8" cy="399.5" r="1.85"/>
<circle cx="511.1" cy="386.5" r="1.85"/>
<circle cx="520.1" cy="434.5" r="1.85"/>
<circle cx="516.8" cy="388.9" r="1.85"/>
<circle cx="509.9" cy="401.5" r="1.85"/>
<circle cx="508.3" cy="410.1" r="1.85"/>
<circle cx="520.1" cy="391.3" r="1.85"/>
<circle cx="514.3" cy="405.8" r="1.85"/>
<circle cx="508.0" cy="429.8" r="1.85"/>
<circle cx="510.5" cy="435.7" r="1.85"/>
<circle cx="520.1" cy="421.0" r="1.85"/>
<circle cx="521.7" cy="408.3" r="1.85"/>
<circle cx="515.0" cy="401.8" r="1.85"/>
<circle cx="518.2" cy="409.5" r="1.85"/>
<circle cx="519.9" cy="398.0" r="1.85"/>
<circle cx="511.3" cy="407.4" r="1.85"/>
<circle cx="516.6" cy="400.8" r="1.85"/>
<circle cx="510.8" cy="423.6" r="1.85"/>
<circle cx="519.6" cy="385.0" r="1.85"/>
<circle cx="517.7" cy="435.7" r="1.85"/>
<circle cx="518.4" cy="405.0" r="1.85"/>
<circle cx="513.7" cy="434.1" r="1.85"/>
<circle cx="508.1" cy="378.9" r="1.85"/>
<circle cx="514.9" cy="419.8" r="1.85"/>
<circle cx="512.8" cy="387.2" r="1.85"/>
<circle cx="511.5" cy="410.4" r="1.85"/>
<circle cx="514.7" cy="373.4" r="1.85"/>
<circle cx="514.7" cy="427.6" r="1.85"/>
<circle cx="517.6" cy="395.8" r="1.85"/>
<circle cx="517.9" cy="390.3" r="1.85"/>
<circle cx="517.9" cy="432.8" r="1.85"/>
<circle cx="513.0" cy="372.2" r="1.85"/>
<circle cx="516.8" cy="427.8" r="1.85"/>
<circle cx="513.0" cy="403.1" r="1.85"/>
<circle cx="519.6" cy="400.1" r="1.85"/>
<circle cx="511.2" cy="423.1" r="1.85"/>
<circle cx="511.6" cy="427.4" r="1.85"/>
<circle cx="515.3" cy="417.3" r="1.85"/>
<circle cx="507.9" cy="413.5" r="1.85"/>
<circle cx="519.6" cy="388.5" r="1.85"/>
<circle cx="509.3" cy="409.2" r="1.85"/>
<circle cx="509.3" cy="411.1" r="1.85"/>
<circle cx="515.2" cy="411.9" r="1.85"/>
<circle cx="509.4" cy="392.8" r="1.85"/>
<circle cx="513.7" cy="406.1" r="1.85"/>
<circle cx="518.5" cy="384.5" r="1.85"/>
<circle cx="514.3" cy="440.8" r="1.85"/>
<circle cx="519.3" cy="410.5" r="1.85"/>
<circle cx="516.1" cy="412.7" r="1.85"/>
<circle cx="512.4" cy="396.1" r="1.85"/>
<circle cx="515.4" cy="402.6" r="1.85"/>
<circle cx="517.7" cy="403.7" r="1.85"/>
<circle cx="512.6" cy="432.9" r="1.85"/>
<circle cx="511.0" cy="419.1" r="1.85"/>
<circle cx="516.3" cy="425.0" r="1.85"/>
<circle cx="513.2" cy="442.1" r="1.85"/>
<circle cx="514.5" cy="397.4" r="1.85"/>
<circle cx="518.6" cy="405.4" r="1.85"/>
<circle cx="519.0" cy="438.2" r="1.85"/>
<circle cx="521.5" cy="418.4" r="1.85"/>
<circle cx="517.4" cy="384.5" r="1.85"/>
<circle cx="508.0" cy="426.5" r="1.85"/>
<circle cx="510.5" cy="411.2" r="1.85"/>
<circle cx="517.6" cy="404.6" r="1.85"/>
<circle cx="512.4" cy="400.4" r="1.85"/>
<circle cx="516.1" cy="404.3" r="1.85"/>
<circle cx="519.2" cy="414.7" r="1.85"/>
<circle cx="511.3" cy="428.7" r="1.85"/>
<circle cx="517.9" cy="378.2" r="1.85"/>
<circle cx="512.0" cy="400.5" r="1.85"/>
<circle cx="518.6" cy="400.5" r="1.85"/>
<circle cx="515.9" cy="398.3" r="1.85"/>
<circle cx="518.0" cy="369.2" r="1.85"/>
<circle cx="507.9" cy="422.5" r="1.85"/>
<circle cx="512.1" cy="408.3" r="1.85"/>
<circle cx="519.0" cy="407.9" r="1.85"/>
<circle cx="520.8" cy="377.0" r="1.85"/>
<circle cx="515.1" cy="391.7" r="1.85"/>
<circle cx="508.8" cy="419.5" r="1.85"/>
<circle cx="511.3" cy="415.7" r="1.85"/>
<circle cx="516.1" cy="405.1" r="1.85"/>
<circle cx="509.9" cy="398.7" r="1.85"/>
<circle cx="521.2" cy="420.9" r="1.85"/>
<circle cx="507.8" cy="404.2" r="1.85"/>
<circle cx="519.2" cy="376.3" r="1.85"/>
<circle cx="513.4" cy="427.7" r="1.85"/>
<circle cx="511.3" cy="427.4" r="1.85"/>
<circle cx="514.5" cy="415.4" r="1.85"/>
<circle cx="512.9" cy="412.1" r="1.85"/>
<circle cx="509.0" cy="414.5" r="1.85"/>
<circle cx="519.5" cy="374.7" r="1.85"/>
<circle cx="518.6" cy="420.9" r="1.85"/>
<circle cx="516.7" cy="428.6" r="1.85"/>
<circle cx="517.9" cy="382.6" r="1.85"/>
<circle cx="511.8" cy="398.8" r="1.85"/>
<circle cx="515.6" cy="406.5" r="1.85"/>
<circle cx="514.8" cy="416.1" r="1.85"/>
<circle cx="509.4" cy="400.4" r="1.85"/>
<circle cx="514.0" cy="435.9" r="1.85"/>
<circle cx="508.0" cy="395.0" r="1.85"/>
<circle cx="518.7" cy="438.6" r="1.85"/>
<circle cx="515.0" cy="441.8" r="1.85"/>
<circle cx="514.8" cy="441.9" r="1.85"/>
<circle cx="507.9" cy="375.0" r="1.85"/>
<circle cx="509.9" cy="438.2" r="1.85"/>
<circle cx="516.7" cy="424.9" r="1.85"/>
<circle cx="509.5" cy="398.5" r="1.85"/>
<circle cx="517.7" cy="382.8" r="1.85"/>
<circle cx="518.9" cy="389.0" r="1.85"/>
<circle cx="520.9" cy="417.5" r="1.85"/>
<circle cx="517.1" cy="393.9" r="1.85"/>
<circle cx="508.2" cy="434.7" r="1.85"/>
<circle cx="516.1" cy="399.7" r="1.85"/>
<circle cx="514.9" cy="381.0" r="1.85"/>
<circle cx="520.5" cy="412.0" r="1.85"/>
<circle cx="517.9" cy="438.2" r="1.85"/>
<circle cx="509.4" cy="401.8" r="1.85"/>
<circle cx="510.9" cy="417.1" r="1.85"/>
<circle cx="509.5" cy="402.6" r="1.85"/>
<circle cx="509.5" cy="409.5" r="1.85"/>
<circle cx="517.1" cy="436.4" r="1.85"/>
<circle cx="514.0" cy="374.1" r="1.85"/>
<circle cx="513.5" cy="430.5" r="1.85"/>
<circle cx="513.6" cy="440.6" r="1.85"/>
<circle cx="521.6" cy="376.5" r="1.85"/>
<circle cx="518.2" cy="404.2" r="1.85"/>
<circle cx="518.2" cy="416.4" r="1.85"/>
<circle cx="510.8" cy="383.5" r="1.85"/>
<circle cx="518.3" cy="405.9" r="1.85"/>
<circle cx="511.4" cy="410.2" r="1.85"/>
<circle cx="511.3" cy="413.0" r="1.85"/>
<circle cx="509.3" cy="394.9" r="1.85"/>
<circle cx="511.0" cy="381.1" r="1.85"/>
<circle cx="518.4" cy="433.0" r="1.85"/>
<circle cx="509.4" cy="409.8" r="1.85"/>
<circle cx="520.1" cy="403.0" r="1.85"/>
<circle cx="511.7" cy="419.4" r="1.85"/>
<circle cx="511.2" cy="414.4" r="1.85"/>
<circle cx="514.9" cy="384.3" r="1.85"/>
<circle cx="520.1" cy="407.6" r="1.85"/>
<circle cx="517.5" cy="396.4" r="1.85"/>
<circle cx="521.7" cy="382.1" r="1.85"/>
<circle cx="509.4" cy="407.7" r="1.85"/>
<circle cx="515.8" cy="414.3" r="1.85"/>
<circle cx="518.4" cy="434.7" r="1.85"/>
<circle cx="513.6" cy="418.0" r="1.85"/>
<circle cx="513.4" cy="392.9" r="1.85"/>
<circle cx="511.4" cy="402.2" r="1.85"/>
<circle cx="520.9" cy="373.6" r="1.85"/>
<circle cx="516.5" cy="404.3" r="1.85"/>
<circle cx="520.4" cy="428.8" r="1.85"/>
<circle cx="519.3" cy="436.2" r="1.85"/>
<circle cx="516.9" cy="413.6" r="1.85"/>
<circle cx="514.2" cy="388.3" r="1.85"/>
<circle cx="513.4" cy="391.2" r="1.85"/>
</g>
<g fill="#fff" stroke="#2a6eb2" stroke-width="0.95">
<circle cx="598.0" cy="347.4" r="1.85"/>
<circle cx="600.6" cy="404.8" r="1.85"/>
<circle cx="593.3" cy="338.2" r="1.85"/>
<circle cx="596.7" cy="371.9" r="1.85"/>
<circle cx="600.5" cy="327.8" r="1.85"/>
<circle cx="599.4" cy="386.2" r="1.85"/>
<circle cx="597.9" cy="384.6" r="1.85"/>
<circle cx="591.2" cy="382.4" r="1.85"/>
<circle cx="599.5" cy="349.5" r="1.85"/>
<circle cx="593.3" cy="380.8" r="1.85"/>
<circle cx="603.5" cy="399.6" r="1.85"/>
<circle cx="598.5" cy="391.3" r="1.85"/>
<circle cx="593.4" cy="333.5" r="1.85"/>
<circle cx="598.5" cy="396.5" r="1.85"/>
<circle cx="590.8" cy="338.1" r="1.85"/>
<circle cx="590.9" cy="365.0" r="1.85"/>
<circle cx="601.6" cy="359.7" r="1.85"/>
<circle cx="602.2" cy="377.4" r="1.85"/>
<circle cx="597.9" cy="405.2" r="1.85"/>
<circle cx="597.9" cy="331.2" r="1.85"/>
<circle cx="602.5" cy="361.2" r="1.85"/>
<circle cx="599.0" cy="402.8" r="1.85"/>
<circle cx="596.1" cy="346.7" r="1.85"/>
<circle cx="592.9" cy="336.5" r="1.85"/>
<circle cx="601.0" cy="326.2" r="1.85"/>
<circle cx="591.3" cy="388.3" r="1.85"/>
<circle cx="597.2" cy="358.1" r="1.85"/>
<circle cx="602.5" cy="399.8" r="1.85"/>
<circle cx="601.6" cy="379.5" r="1.85"/>
<circle cx="600.8" cy="383.1" r="1.85"/>
<circle cx="599.1" cy="334.5" r="1.85"/>
<circle cx="592.8" cy="341.9" r="1.85"/>
<circle cx="597.0" cy="346.3" r="1.85"/>
<circle cx="597.6" cy="369.6" r="1.85"/>
<circle cx="597.7" cy="342.2" r="1.85"/>
<circle cx="592.8" cy="370.0" r="1.85"/>
<circle cx="603.0" cy="327.4" r="1.85"/>
<circle cx="600.3" cy="387.0" r="1.85"/>
<circle cx="597.9" cy="364.5" r="1.85"/>
<circle cx="603.3" cy="375.0" r="1.85"/>
<circle cx="600.8" cy="341.9" r="1.85"/>
<circle cx="592.3" cy="337.3" r="1.85"/>
<circle cx="593.5" cy="387.8" r="1.85"/>
<circle cx="599.4" cy="382.6" r="1.85"/>
<circle cx="591.0" cy="371.3" r="1.85"/>
<circle cx="598.8" cy="363.2" r="1.85"/>
<circle cx="601.0" cy="400.9" r="1.85"/>
<circle cx="600.2" cy="351.8" r="1.85"/>
<circle cx="602.0" cy="360.0" r="1.85"/>
<circle cx="592.8" cy="369.6" r="1.85"/>
<circle cx="598.4" cy="380.3" r="1.85"/>
<circle cx="599.5" cy="361.9" r="1.85"/>
<circle cx="602.9" cy="351.0" r="1.85"/>
<circle cx="596.0" cy="417.2" r="1.85"/>
<circle cx="594.4" cy="363.7" r="1.85"/>
<circle cx="602.0" cy="350.5" r="1.85"/>
<circle cx="597.8" cy="392.8" r="1.85"/>
<circle cx="601.7" cy="401.4" r="1.85"/>
<circle cx="594.0" cy="394.3" r="1.85"/>
<circle cx="596.7" cy="384.3" r="1.85"/>
<circle cx="598.3" cy="370.9" r="1.85"/>
<circle cx="592.4" cy="352.5" r="1.85"/>
<circle cx="594.7" cy="358.4" r="1.85"/>
<circle cx="598.7" cy="373.9" r="1.85"/>
<circle cx="591.7" cy="327.7" r="1.85"/>
<circle cx="596.2" cy="341.2" r="1.85"/>
<circle cx="602.7" cy="330.6" r="1.85"/>
<circle cx="599.6" cy="359.1" r="1.85"/>
<circle cx="602.4" cy="391.7" r="1.85"/>
<circle cx="601.2" cy="355.4" r="1.85"/>
<circle cx="592.5" cy="316.2" r="1.85"/>
<circle cx="597.7" cy="332.7" r="1.85"/>
<circle cx="591.1" cy="402.6" r="1.85"/>
<circle cx="601.7" cy="384.6" r="1.85"/>
<circle cx="596.5" cy="338.2" r="1.85"/>
<circle cx="590.3" cy="378.0" r="1.85"/>
<circle cx="603.1" cy="375.4" r="1.85"/>
<circle cx="594.4" cy="353.1" r="1.85"/>
<circle cx="591.5" cy="384.5" r="1.85"/>
<circle cx="594.6" cy="372.1" r="1.85"/>
<circle cx="601.4" cy="344.0" r="1.85"/>
<circle cx="603.7" cy="351.6" r="1.85"/>
<circle cx="596.7" cy="380.1" r="1.85"/>
<circle cx="604.1" cy="339.1" r="1.85"/>
<circle cx="602.1" cy="338.3" r="1.85"/>
<circle cx="595.2" cy="385.2" r="1.85"/>
<circle cx="594.8" cy="374.8" r="1.85"/>
<circle cx="590.4" cy="373.1" r="1.85"/>
<circle cx="596.7" cy="349.3" r="1.85"/>
<circle cx="604.0" cy="356.3" r="1.85"/>
<circle cx="593.0" cy="367.4" r="1.85"/>
<circle cx="602.2" cy="344.0" r="1.85"/>
<circle cx="591.2" cy="345.8" r="1.85"/>
<circle cx="601.5" cy="339.3" r="1.85"/>
<circle cx="598.3" cy="327.0" r="1.85"/>
<circle cx="598.6" cy="356.5" r="1.85"/>
<circle cx="604.2" cy="349.6" r="1.85"/>
<circle cx="592.1" cy="385.4" r="1.85"/>
<circle cx="600.4" cy="347.3" r="1.85"/>
<circle cx="591.7" cy="378.3" r="1.85"/>
<circle cx="598.6" cy="358.7" r="1.85"/>
<circle cx="595.4" cy="388.2" r="1.85"/>
<circle cx="592.4" cy="356.6" r="1.85"/>
<circle cx="590.6" cy="377.4" r="1.85"/>
<circle cx="603.1" cy="369.2" r="1.85"/>
<circle cx="602.8" cy="369.4" r="1.85"/>
<circle cx="600.0" cy="414.2" r="1.85"/>
<circle cx="590.3" cy="330.9" r="1.85"/>
<circle cx="599.1" cy="378.9" r="1.85"/>
<circle cx="592.1" cy="361.8" r="1.85"/>
<circle cx="602.0" cy="384.4" r="1.85"/>
<circle cx="595.0" cy="321.2" r="1.85"/>
<circle cx="604.2" cy="376.7" r="1.85"/>
<circle cx="603.5" cy="329.5" r="1.85"/>
<circle cx="592.0" cy="359.7" r="1.85"/>
<circle cx="604.2" cy="370.6" r="1.85"/>
<circle cx="600.5" cy="373.0" r="1.85"/>
<circle cx="591.5" cy="331.7" r="1.85"/>
<circle cx="599.8" cy="375.8" r="1.85"/>
<circle cx="591.6" cy="338.1" r="1.85"/>
<circle cx="593.5" cy="355.6" r="1.85"/>
<circle cx="599.2" cy="375.0" r="1.85"/>
<circle cx="594.0" cy="414.2" r="1.85"/>
<circle cx="601.8" cy="366.8" r="1.85"/>
<circle cx="598.1" cy="337.3" r="1.85"/>
<circle cx="592.4" cy="366.0" r="1.85"/>
<circle cx="600.8" cy="360.3" r="1.85"/>
<circle cx="599.7" cy="390.9" r="1.85"/>
<circle cx="599.3" cy="363.9" r="1.85"/>
<circle cx="599.7" cy="337.3" r="1.85"/>
<circle cx="599.4" cy="337.6" r="1.85"/>
<circle cx="598.0" cy="367.7" r="1.85"/>
<circle cx="594.3" cy="372.6" r="1.85"/>
<circle cx="590.6" cy="358.5" r="1.85"/>
<circle cx="601.6" cy="385.4" r="1.85"/>
<circle cx="598.5" cy="371.8" r="1.85"/>
<circle cx="601.5" cy="356.6" r="1.85"/>
<circle cx="596.3" cy="402.6" r="1.85"/>
<circle cx="592.1" cy="357.9" r="1.85"/>
<circle cx="599.6" cy="335.4" r="1.85"/>
<circle cx="598.4" cy="342.9" r="1.85"/>
<circle cx="603.9" cy="356.6" r="1.85"/>
<circle cx="591.9" cy="346.3" r="1.85"/>
<circle cx="601.0" cy="343.5" r="1.85"/>
<circle cx="602.0" cy="350.6" r="1.85"/>
<circle cx="604.0" cy="324.2" r="1.85"/>
<circle cx="594.1" cy="373.0" r="1.85"/>
<circle cx="597.6" cy="371.2" r="1.85"/>
<circle cx="596.6" cy="344.1" r="1.85"/>
<circle cx="600.0" cy="386.9" r="1.85"/>
<circle cx="603.9" cy="381.8" r="1.85"/>
<circle cx="593.9" cy="404.4" r="1.85"/>
<circle cx="596.6" cy="404.7" r="1.85"/>
<circle cx="602.4" cy="366.6" r="1.85"/>
<circle cx="597.0" cy="418.2" r="1.85"/>
<circle cx="601.4" cy="342.0" r="1.85"/>
<circle cx="599.3" cy="352.1" r="1.85"/>
<circle cx="597.5" cy="393.7" r="1.85"/>
<circle cx="598.4" cy="386.8" r="1.85"/>
<circle cx="601.7" cy="356.7" r="1.85"/>
<circle cx="594.2" cy="339.0" r="1.85"/>
<circle cx="595.8" cy="379.7" r="1.85"/>
<circle cx="601.1" cy="390.4" r="1.85"/>
<circle cx="593.3" cy="359.9" r="1.85"/>
<circle cx="601.7" cy="341.4" r="1.85"/>
<circle cx="599.0" cy="322.2" r="1.85"/>
<circle cx="595.5" cy="357.6" r="1.85"/>
<circle cx="596.7" cy="398.5" r="1.85"/>
<circle cx="592.3" cy="363.2" r="1.85"/>
<circle cx="597.2" cy="334.0" r="1.85"/>
<circle cx="594.3" cy="345.6" r="1.85"/>
<circle cx="593.8" cy="361.1" r="1.85"/>
<circle cx="598.8" cy="340.9" r="1.85"/>
<circle cx="601.2" cy="356.3" r="1.85"/>
<circle cx="596.1" cy="329.3" r="1.85"/>
<circle cx="592.1" cy="348.0" r="1.85"/>
<circle cx="603.4" cy="355.4" r="1.85"/>
<circle cx="590.8" cy="364.8" r="1.85"/>
<circle cx="591.1" cy="350.3" r="1.85"/>
<circle cx="591.0" cy="385.0" r="1.85"/>
<circle cx="599.3" cy="346.2" r="1.85"/>
<circle cx="602.1" cy="375.7" r="1.85"/>
<circle cx="591.7" cy="388.9" r="1.85"/>
<circle cx="590.8" cy="383.1" r="1.85"/>
<circle cx="602.5" cy="372.6" r="1.85"/>
<circle cx="591.5" cy="382.7" r="1.85"/>
<circle cx="592.7" cy="330.8" r="1.85"/>
<circle cx="594.7" cy="385.0" r="1.85"/>
<circle cx="598.9" cy="399.1" r="1.85"/>
<circle cx="591.0" cy="356.3" r="1.85"/>
<circle cx="593.1" cy="376.2" r="1.85"/>
<circle cx="604.0" cy="421.2" r="1.85"/>
<circle cx="602.3" cy="378.0" r="1.85"/>
<circle cx="593.3" cy="342.6" r="1.85"/>
<circle cx="590.3" cy="397.9" r="1.85"/>
<circle cx="595.1" cy="361.3" r="1.85"/>
<circle cx="597.7" cy="336.4" r="1.85"/>
<circle cx="597.5" cy="377.6" r="1.85"/>
<circle cx="603.5" cy="368.5" r="1.85"/>
<circle cx="594.4" cy="400.1" r="1.85"/>
</g>
<g fill="#fff" stroke="#48322a" stroke-width="0.95">
<circle cx="635.9" cy="421.1" r="1.85"/>
<circle cx="638.3" cy="424.5" r="1.85"/>
<circle cx="636.0" cy="417.2" r="1.85"/>
<circle cx="641.2" cy="408.4" r="1.85"/>
<circle cx="640.3" cy="397.8" r="1.85"/>
<circle cx="635.9" cy="431.1" r="1.85"/>
<circle cx="646.9" cy="434.2" r="1.85"/>
<circle cx="639.8" cy="411.8" r="1.85"/>
<circle cx="635.7" cy="399.4" r="1.85"/>
<circle cx="638.6" cy="415.6" r="1.85"/>
<circle cx="647.5" cy="392.6" r="1.85"/>
<circle cx="637.7" cy="382.2" r="1.85"/>
<circle cx="647.7" cy="426.7" r="1.85"/>
<circle cx="645.5" cy="422.8" r="1.85"/>
<circle cx="648.0" cy="392.8" r="1.85"/>
<circle cx="636.4" cy="397.7" r="1.85"/>
<circle cx="644.5" cy="407.3" r="1.85"/>
<circle cx="636.1" cy="387.3" r="1.85"/>
<circle cx="647.8" cy="412.6" r="1.85"/>
<circle cx="647.1" cy="390.9" r="1.85"/>
<circle cx="646.1" cy="392.6" r="1.85"/>
<circle cx="648.0" cy="373.2" r="1.85"/>
<circle cx="641.9" cy="425.7" r="1.85"/>
<circle cx="641.2" cy="400.3" r="1.85"/>
<circle cx="639.1" cy="428.2" r="1.85"/>
<circle cx="642.9" cy="391.4" r="1.85"/>
<circle cx="639.4" cy="428.3" r="1.85"/>
<circle cx="640.4" cy="387.4" r="1.85"/>
<circle cx="640.3" cy="423.9" r="1.85"/>
<circle cx="635.4" cy="410.2" r="1.85"/>
<circle cx="643.7" cy="383.9" r="1.85"/>
<circle cx="645.0" cy="431.5" r="1.85"/>
<circle cx="635.2" cy="419.3" r="1.85"/>
<circle cx="637.2" cy="407.2" r="1.85"/>
<circle cx="645.2" cy="425.8" r="1.85"/>
<circle cx="648.4" cy="390.6" r="1.85"/>
<circle cx="639.6" cy="429.9" r="1.85"/>
<circle cx="645.6" cy="399.0" r="1.85"/>
<circle cx="642.5" cy="399.0" r="1.85"/>
<circle cx="643.7" cy="398.9" r="1.85"/>
<circle cx="636.0" cy="424.8" r="1.85"/>
<circle cx="636.3" cy="410.3" r="1.85"/>
<circle cx="648.3" cy="400.7" r="1.85"/>
<circle cx="639.2" cy="412.6" r="1.85"/>
<circle cx="642.5" cy="410.6" r="1.85"/>
<circle cx="639.8" cy="425.6" r="1.85"/>
<circle cx="641.2" cy="413.1" r="1.85"/>
<circle cx="635.0" cy="434.9" r="1.85"/>
<circle cx="644.7" cy="405.1" r="1.85"/>
<circle cx="644.6" cy="420.7" r="1.85"/>
<circle cx="642.1" cy="423.0" r="1.85"/>
<circle cx="646.4" cy="383.8" r="1.85"/>
<circle cx="646.0" cy="407.0" r="1.85"/>
<circle cx="637.0" cy="416.2" r="1.85"/>
<circle cx="640.0" cy="405.4" r="1.85"/>
<circle cx="634.5" cy="420.5" r="1.85"/>
<circle cx="645.2" cy="412.0" r="1.85"/>
<circle cx="635.2" cy="437.0" r="1.85"/>
<circle cx="636.3" cy="413.4" r="1.85"/>
<circle cx="642.6" cy="430.6" r="1.85"/>
<circle cx="643.2" cy="436.8" r="1.85"/>
<circle cx="634.7" cy="402.2" r="1.85"/>
<circle cx="647.3" cy="416.6" r="1.85"/>
<circle cx="647.6" cy="440.2" r="1.85"/>
<circle cx="636.4" cy="389.5" r="1.85"/>
<circle cx="647.7" cy="413.2" r="1.85"/>
<circle cx="634.6" cy="430.2" r="1.85"/>
<circle cx="640.9" cy="392.2" r="1.85"/>
<circle cx="641.9" cy="417.3" r="1.85"/>
<circle cx="635.5" cy="422.5" r="1.85"/>
<circle cx="645.7" cy="416.7" r="1.85"/>
<circle cx="635.8" cy="436.6" r="1.85"/>
<circle cx="642.4" cy="409.1" r="1.85"/>
<circle cx="637.4" cy="430.0" r="1.85"/>
<circle cx="640.3" cy="433.7" r="1.85"/>
<circle cx="642.5" cy="394.6" r="1.85"/>
<circle cx="637.6" cy="379.9" r="1.85"/>
<circle cx="645.9" cy="387.7" r="1.85"/>
<circle cx="645.9" cy="391.4" r="1.85"/>
<circle cx="635.8" cy="403.1" r="1.85"/>
<circle cx="647.0" cy="341.8" r="1.85"/>
<circle cx="638.6" cy="409.0" r="1.85"/>
<circle cx="645.7" cy="410.9" r="1.85"/>
<circle cx="639.5" cy="396.0" r="1.85"/>
<circle cx="635.4" cy="419.3" r="1.85"/>
<circle cx="647.6" cy="435.1" r="1.85"/>
<circle cx="634.7" cy="394.0" r="1.85"/>
<circle cx="640.1" cy="440.0" r="1.85"/>
<circle cx="645.1" cy="419.2" r="1.85"/>
<circle cx="645.4" cy="435.2" r="1.85"/>
<circle cx="644.0" cy="406.9" r="1.85"/>
<circle cx="647.7" cy="431.9" r="1.85"/>
<circle cx="647.1" cy="408.2" r="1.85"/>
<circle cx="646.9" cy="440.2" r="1.85"/>
<circle cx="635.4" cy="378.6" r="1.85"/>
<circle cx="647.0" cy="396.3" r="1.85"/>
<circle cx="646.5" cy="427.0" r="1.85"/>
<circle cx="644.7" cy="412.7" r="1.85"/>
<circle cx="640.1" cy="383.5" r="1.85"/>
<circle cx="648.2" cy="411.5" r="1.85"/>
<circle cx="640.0" cy="407.4" r="1.85"/>
<circle cx="645.5" cy="417.8" r="1.85"/>
<circle cx="646.7" cy="394.7" r="1.85"/>
<circle cx="638.9" cy="379.8" r="1.85"/>
<circle cx="638.6" cy="430.0" r="1.85"/>
<circle cx="641.0" cy="402.6" r="1.85"/>
<circle cx="648.1" cy="411.8" r="1.85"/>
<circle cx="637.3" cy="409.9" r="1.85"/>
<circle cx="648.3" cy="415.1" r="1.85"/>
<circle cx="637.4" cy="439.1" r="1.85"/>
<circle cx="638.5" cy="381.9" r="1.85"/>
<circle cx="642.6" cy="410.6" r="1.85"/>
<circle cx="641.7" cy="390.6" r="1.85"/>
<circle cx="640.9" cy="420.1" r="1.85"/>
<circle cx="638.5" cy="405.5" r="1.85"/>
<circle cx="642.8" cy="397.6" r="1.85"/>
<circle cx="641.6" cy="404.5" r="1.85"/>
<circle cx="639.2" cy="393.0" r="1.85"/>
<circle cx="646.6" cy="393.1" r="1.85"/>
<circle cx="642.7" cy="439.3" r="1.85"/>
<circle cx="637.1" cy="426.0" r="1.85"/>
<circle cx="637.6" cy="417.2" r="1.85"/>
<circle cx="637.9" cy="425.6" r="1.85"/>
<circle cx="640.0" cy="413.4" r="1.85"/>
<circle cx="643.7" cy="418.8" r="1.85"/>
<circle cx="642.5" cy="397.8" r="1.85"/>
<circle cx="644.3" cy="410.1" r="1.85"/>
<circle cx="639.6" cy="395.1" r="1.85"/>
<circle cx="642.6" cy="402.4" r="1.85"/>
<circle cx="646.3" cy="393.8" r="1.85"/>
<circle cx="635.0" cy="423.2" r="1.85"/>
<circle cx="634.4" cy="400.4" r="1.85"/>
<circle cx="647.0" cy="414.8" r="1.85"/>
<circle cx="639.3" cy="405.5" r="1.85"/>
<circle cx="644.4" cy="415.8" r="1.85"/>
<circle cx="646.5" cy="394.0" r="1.85"/>
<circle cx="644.5" cy="423.7" r="1.85"/>
<circle cx="639.5" cy="435.3" r="1.85"/>
<circle cx="638.4" cy="405.1" r="1.85"/>
<circle cx="637.8" cy="380.3" r="1.85"/>
<circle cx="645.2" cy="414.5" r="1.85"/>
<circle cx="640.8" cy="415.1" r="1.85"/>
<circle cx="645.0" cy="373.2" r="1.85"/>
<circle cx="645.5" cy="400.2" r="1.85"/>
<circle cx="638.7" cy="388.4" r="1.85"/>
<circle cx="645.9" cy="392.2" r="1.85"/>
<circle cx="634.8" cy="425.0" r="1.85"/>
<circle cx="644.4" cy="413.9" r="1.85"/>
<circle cx="637.0" cy="388.5" r="1.85"/>
<circle cx="646.8" cy="412.8" r="1.85"/>
<circle cx="639.5" cy="381.1" r="1.85"/>
<circle cx="644.2" cy="422.9" r="1.85"/>
<circle cx="644.0" cy="358.6" r="1.85"/>
<circle cx="640.3" cy="431.2" r="1.85"/>
<circle cx="643.8" cy="409.4" r="1.85"/>
<circle cx="637.3" cy="401.8" r="1.85"/>
<circle cx="639.2" cy="427.3" r="1.85"/>
<circle cx="646.5" cy="400.7" r="1.85"/>
<circle cx="637.1" cy="393.9" r="1.85"/>
<circle cx="644.1" cy="414.5" r="1.85"/>
<circle cx="640.5" cy="406.6" r="1.85"/>
<circle cx="639.4" cy="426.0" r="1.85"/>
<circle cx="644.1" cy="419.9" r="1.85"/>
<circle cx="638.1" cy="390.8" r="1.85"/>
<circle cx="643.7" cy="421.8" r="1.85"/>
<circle cx="643.0" cy="399.3" r="1.85"/>
<circle cx="638.4" cy="421.8" r="1.85"/>
<circle cx="636.6" cy="402.7" r="1.85"/>
<circle cx="643.4" cy="409.2" r="1.85"/>
<circle cx="644.4" cy="423.7" r="1.85"/>
<circle cx="640.7" cy="413.6" r="1.85"/>
<circle cx="639.7" cy="440.8" r="1.85"/>
<circle cx="638.6" cy="420.4" r="1.85"/>
<circle cx="643.1" cy="416.5" r="1.85"/>
<circle cx="648.0" cy="428.4" r="1.85"/>
<circle cx="638.3" cy="440.5" r="1.85"/>
<circle cx="640.9" cy="400.3" r="1.85"/>
<circle cx="637.4" cy="439.8" r="1.85"/>
<circle cx="638.3" cy="390.7" r="1.85"/>
<circle cx="637.3" cy="427.8" r="1.85"/>
<circle cx="635.9" cy="415.0" r="1.85"/>
<circle cx="647.7" cy="415.2" r="1.85"/>
<circle cx="647.8" cy="417.0" r="1.85"/>
<circle cx="647.9" cy="391.9" r="1.85"/>
<circle cx="644.6" cy="430.9" r="1.85"/>
<circle cx="634.7" cy="420.6" r="1.85"/>
<circle cx="634.4" cy="416.9" r="1.85"/>
<circle cx="647.7" cy="400.9" r="1.85"/>
<circle cx="647.6" cy="405.0" r="1.85"/>
<circle cx="647.4" cy="429.3" r="1.85"/>
<circle cx="642.9" cy="429.8" r="1.85"/>
<circle cx="643.9" cy="439.9" r="1.85"/>
<circle cx="635.7" cy="399.6" r="1.85"/>
<circle cx="643.8" cy="383.1" r="1.85"/>
<circle cx="644.4" cy="432.0" r="1.85"/>
<circle cx="634.5" cy="435.6" r="1.85"/>
<circle cx="643.1" cy="403.0" r="1.85"/>
<circle cx="642.6" cy="411.8" r="1.85"/>
<circle cx="638.5" cy="427.9" r="1.85"/>
<circle cx="644.1" cy="436.1" r="1.85"/>
<circle cx="641.8" cy="426.9" r="1.85"/>
<circle cx="642.2" cy="428.7" r="1.85"/>
<circle cx="635.8" cy="411.5" r="1.85"/>
<circle cx="640.0" cy="374.2" r="1.85"/>
<circle cx="637.0" cy="362.4" r="1.85"/>
<circle cx="641.6" cy="429.9" r="1.85"/>
<circle cx="634.5" cy="416.6" r="1.85"/>
<circle cx="636.7" cy="440.2" r="1.85"/>
<circle cx="644.0" cy="389.8" r="1.85"/>
<circle cx="638.3" cy="407.5" r="1.85"/>
<circle cx="639.4" cy="389.7" r="1.85"/>
<circle cx="636.4" cy="384.0" r="1.85"/>
<circle cx="642.0" cy="344.9" r="1.85"/>
<circle cx="645.0" cy="434.2" r="1.85"/>
<circle cx="638.2" cy="413.6" r="1.85"/>
<circle cx="648.2" cy="430.6" r="1.85"/>
<circle cx="644.0" cy="413.8" r="1.85"/>
<circle cx="640.9" cy="423.1" r="1.85"/>
<circle cx="637.1" cy="397.2" r="1.85"/>
<circle cx="636.3" cy="423.6" r="1.85"/>
<circle cx="642.1" cy="397.9" r="1.85"/>
<circle cx="637.1" cy="395.0" r="1.85"/>
<circle cx="642.5" cy="390.4" r="1.85"/>
<circle cx="638.4" cy="382.0" r="1.85"/>
<circle cx="642.7" cy="430.9" r="1.85"/>
<circle cx="645.8" cy="424.8" r="1.85"/>
<circle cx="640.0" cy="415.5" r="1.85"/>
</g>
<path d="M466.8 368.8H477.2M466.8 404.6H477.2M472.0 368.8V404.6" stroke="#1c1c1c" stroke-width="1.3" fill="none"/>
<path d="M509.7 393.9H520.1M509.7 426.4H520.1M514.9 393.9V426.4" stroke="#1c1c1c" stroke-width="1.3" fill="none"/>
<path d="M591.8 347.4H602.2M591.8 390.6H602.2M597.0 347.4V390.6" stroke="#1c1c1c" stroke-width="1.3" fill="none"/>
<path d="M636.4 393.4H646.8M636.4 429.6H646.8M641.6 393.4V429.6" stroke="#1c1c1c" stroke-width="1.3" fill="none"/>
<path d="M427.4 291.1H423.1V446.9H683.3M423.1 369.0H427.4" stroke="#1a1a1a" stroke-width="1.4" fill="none" stroke-linejoin="miter"/>
<text x="416.0" y="294.3" text-anchor="end" fill="#222">50</text>
<text x="416.0" y="372.4" text-anchor="end" fill="#222">25</text>
<text x="416.0" y="450.8" text-anchor="end" fill="#222">0</text>
<text transform="translate(385.1 368.9) rotate(-90)" text-anchor="middle" fill="#222">Correct decoding (% words)</text>
<text x="548.5" y="277.0" text-anchor="middle" fill="#666">5 units</text>
<text x="493.8" y="471.1" text-anchor="middle" fill="#222">Single-units</text>
<text x="612.3" y="471.1" text-anchor="middle" fill="#222">Multi-units</text>
<text x="1.7" y="14" font-size="20" font-weight="bold" fill="#1a1a1a">a</text>
<text x="0.9" y="256.2" font-size="20" font-weight="bold" fill="#1a1a1a">b</text>
</svg>
</body></html>
